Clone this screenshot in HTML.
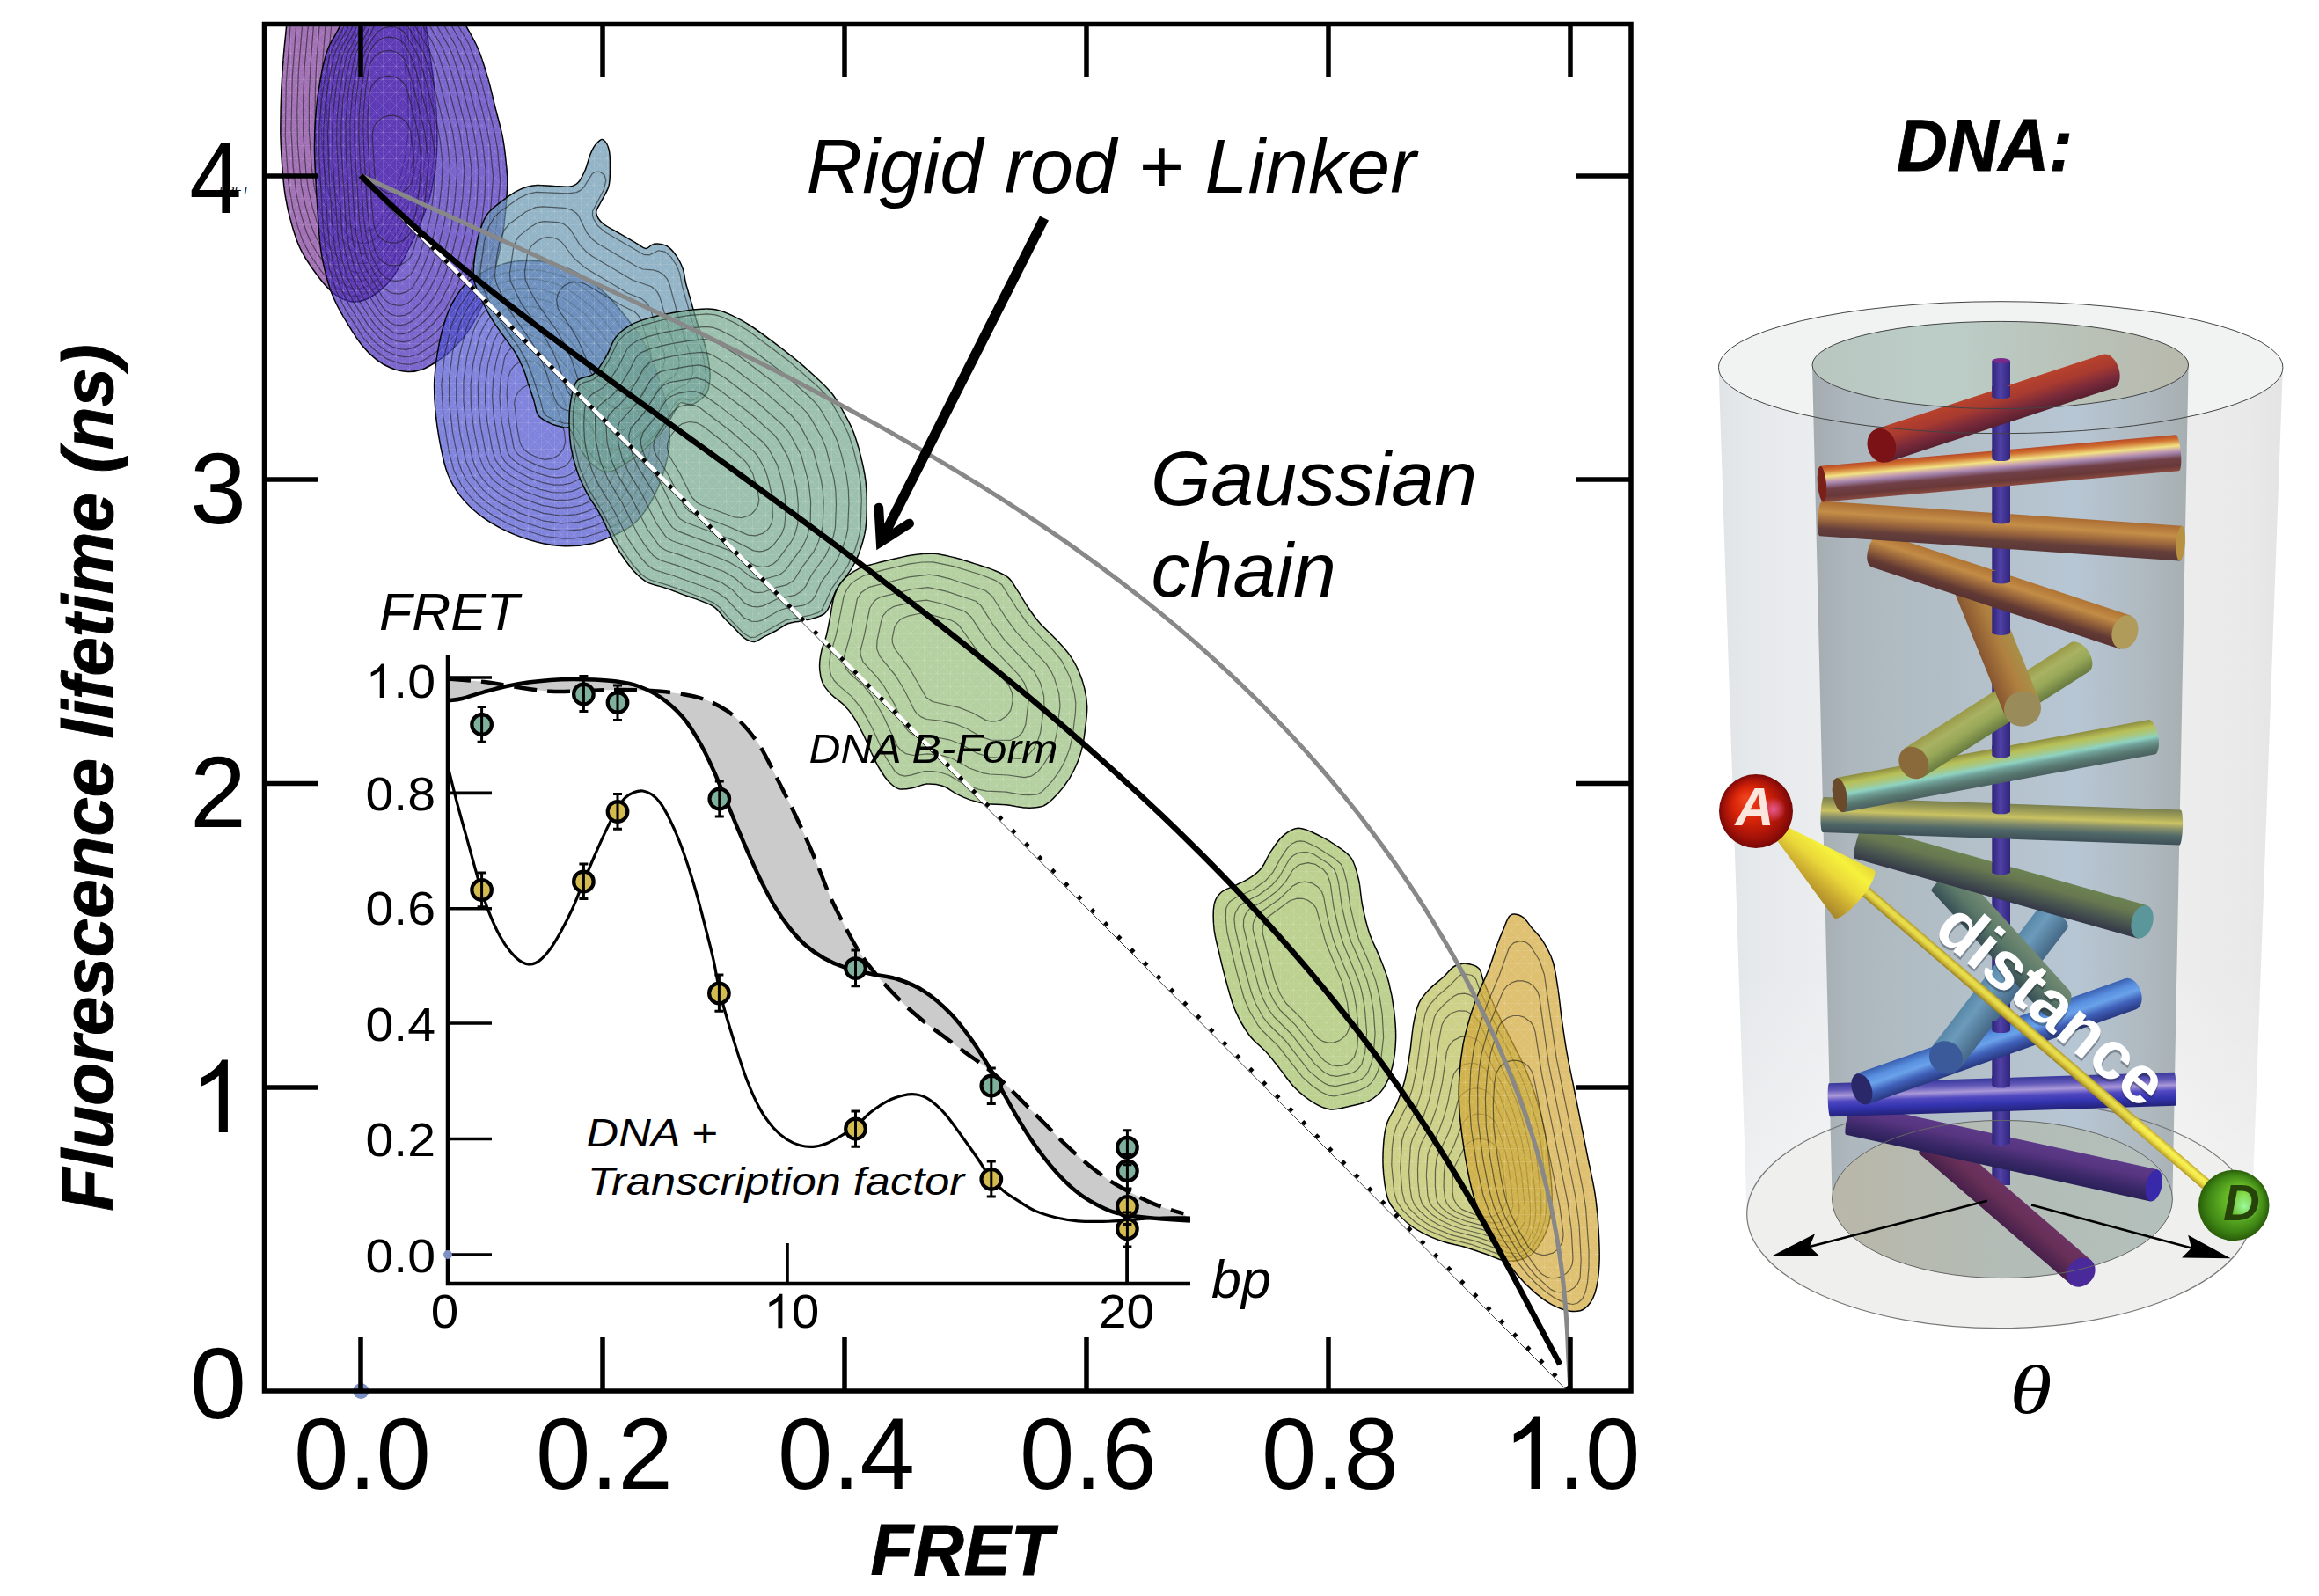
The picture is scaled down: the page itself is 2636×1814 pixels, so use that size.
<!DOCTYPE html>
<html><head><meta charset="utf-8"><title>Figure</title>
<style>
html,body{margin:0;padding:0;background:#fff;}
svg{display:block;font-family:"Liberation Sans",sans-serif;}
text{fill:#000;}
</style></head><body>
<svg width="2636" height="1814" viewBox="0 0 2636 1814">
<defs>
<clipPath id="plotclip"><rect x="300" y="27" width="1554" height="1554"/></clipPath>
<pattern id="mesh" width="15" height="15" patternUnits="userSpaceOnUse"><path d="M0,0.4H15M0.4,0V15M0,0L15,15M15,0L0,15" stroke="#fff" stroke-opacity="0.14" stroke-width="0.8" fill="none"/><path d="M0,7.9H15M7.9,0V15" stroke="#fff" stroke-opacity="0.06" stroke-width="0.7" fill="none"/></pattern>
<linearGradient id="gOuter" gradientUnits="userSpaceOnUse" x1="1953" y1="0" x2="2595" y2="0"><stop offset="0" stop-color="#e0e4e6"/><stop offset="0.06" stop-color="#e6e9eb"/><stop offset="0.2" stop-color="#ebedef"/><stop offset="0.5" stop-color="#f1f2f2"/><stop offset="0.8" stop-color="#ededed"/><stop offset="0.94" stop-color="#e9e9e9"/><stop offset="1" stop-color="#e4e4e4"/></linearGradient>
<linearGradient id="gFade" gradientUnits="userSpaceOnUse" x1="0" y1="1100" x2="0" y2="1420"><stop offset="0" stop-color="#fff" stop-opacity="0"/><stop offset="1" stop-color="#fff" stop-opacity="0.45"/></linearGradient>
<linearGradient id="gInner" gradientUnits="userSpaceOnUse" x1="2060" y1="0" x2="2488" y2="0"><stop offset="0" stop-color="#a4acb0"/><stop offset="0.1" stop-color="#adb7bd"/><stop offset="0.45" stop-color="#b4c1ca"/><stop offset="0.7" stop-color="#b7c6d4"/><stop offset="0.9" stop-color="#aeb8be"/><stop offset="1" stop-color="#a6aeb0"/></linearGradient>
<linearGradient id="gBot" gradientUnits="userSpaceOnUse" x1="2083" y1="0" x2="2470" y2="0"><stop offset="0" stop-color="#b9b7a8"/><stop offset="0.5" stop-color="#b3bcb6"/><stop offset="1" stop-color="#b4c0bc"/></linearGradient>
<linearGradient id="gTop" gradientUnits="userSpaceOnUse" x1="2060" y1="0" x2="2488" y2="0"><stop offset="0" stop-color="#b9c6c0"/><stop offset="0.35" stop-color="#bccdc8"/><stop offset="0.7" stop-color="#b9c2b8"/><stop offset="1" stop-color="#b8b9ac"/></linearGradient>
<linearGradient id="gAxis" gradientUnits="userSpaceOnUse" x1="2264.3" y1="0" x2="2285" y2="0"><stop offset="0" stop-color="#2e2278"/><stop offset="0.45" stop-color="#5041a6"/><stop offset="1" stop-color="#31257c"/></linearGradient>
<linearGradient id="rg15" gradientUnits="userSpaceOnUse" x1="0" y1="-18.0" x2="0" y2="18.0"><stop offset="0" stop-color="#6c3262"/><stop offset="0.4" stop-color="#683058"/><stop offset="1" stop-color="#46204a"/></linearGradient>
<linearGradient id="rg14" gradientUnits="userSpaceOnUse" x1="0" y1="-18.5" x2="0" y2="18.5"><stop offset="0" stop-color="#5c3a88"/><stop offset="0.3" stop-color="#583580"/><stop offset="0.7" stop-color="#3a2868"/><stop offset="1" stop-color="#2a2058"/></linearGradient>
<linearGradient id="rg13" gradientUnits="userSpaceOnUse" x1="0" y1="-19.0" x2="0" y2="19.0"><stop offset="0" stop-color="#38389a"/><stop offset="0.2" stop-color="#6058b8"/><stop offset="0.38" stop-color="#aa98d8"/><stop offset="0.55" stop-color="#5048c0"/><stop offset="0.75" stop-color="#3434b0"/><stop offset="1" stop-color="#22227a"/></linearGradient>
<linearGradient id="rg12" gradientUnits="userSpaceOnUse" x1="0" y1="-18.5" x2="0" y2="18.5"><stop offset="0" stop-color="#3a60b0"/><stop offset="0.25" stop-color="#5a90e0"/><stop offset="0.45" stop-color="#6aa2ea"/><stop offset="0.7" stop-color="#4060b8"/><stop offset="1" stop-color="#283880"/></linearGradient>
<linearGradient id="rg11" gradientUnits="userSpaceOnUse" x1="0" y1="-20.0" x2="0" y2="20.0"><stop offset="0" stop-color="#5888a8"/><stop offset="0.35" stop-color="#6c9aba"/><stop offset="1" stop-color="#456886"/></linearGradient>
<linearGradient id="rg10" gradientUnits="userSpaceOnUse" x1="0" y1="-20.0" x2="0" y2="20.0"><stop offset="0" stop-color="#728a72"/><stop offset="0.5" stop-color="#5a7868"/><stop offset="1" stop-color="#384e56"/></linearGradient>
<linearGradient id="rg9" gradientUnits="userSpaceOnUse" x1="0" y1="-19.5" x2="0" y2="19.5"><stop offset="0" stop-color="#6c8252"/><stop offset="0.3" stop-color="#687850"/><stop offset="0.65" stop-color="#4a5850"/><stop offset="1" stop-color="#343848"/></linearGradient>
<linearGradient id="rg8" gradientUnits="userSpaceOnUse" x1="0" y1="-20.0" x2="0" y2="20.0"><stop offset="0" stop-color="#7a8050"/><stop offset="0.2" stop-color="#a0a058"/><stop offset="0.38" stop-color="#cac262"/><stop offset="0.55" stop-color="#88906a"/><stop offset="0.75" stop-color="#506868"/><stop offset="1" stop-color="#3e5058"/></linearGradient>
<linearGradient id="rg7" gradientUnits="userSpaceOnUse" x1="0" y1="-20.0" x2="0" y2="20.0"><stop offset="0" stop-color="#8c8c3e"/><stop offset="0.2" stop-color="#b8c058"/><stop offset="0.35" stop-color="#a8c880"/><stop offset="0.5" stop-color="#8ed2c2"/><stop offset="0.62" stop-color="#70a098"/><stop offset="0.8" stop-color="#587870"/><stop offset="1" stop-color="#4a6060"/></linearGradient>
<linearGradient id="rg6" gradientUnits="userSpaceOnUse" x1="0" y1="-19.5" x2="0" y2="19.5"><stop offset="0" stop-color="#9a9a48"/><stop offset="0.3" stop-color="#a8b262"/><stop offset="0.6" stop-color="#98a858"/><stop offset="1" stop-color="#687a40"/></linearGradient>
<linearGradient id="rg5" gradientUnits="userSpaceOnUse" x1="0" y1="-21.5" x2="0" y2="21.5"><stop offset="0" stop-color="#a89048"/><stop offset="0.4" stop-color="#b08040"/><stop offset="1" stop-color="#875630"/></linearGradient>
<linearGradient id="rg4" gradientUnits="userSpaceOnUse" x1="0" y1="-20.0" x2="0" y2="20.0"><stop offset="0" stop-color="#b07434"/><stop offset="0.28" stop-color="#c28c46"/><stop offset="0.55" stop-color="#93603a"/><stop offset="0.8" stop-color="#623a34"/><stop offset="1" stop-color="#583232"/></linearGradient>
<linearGradient id="rg3" gradientUnits="userSpaceOnUse" x1="0" y1="-20.0" x2="0" y2="20.0"><stop offset="0" stop-color="#aa6c34"/><stop offset="0.3" stop-color="#c48e48"/><stop offset="0.52" stop-color="#a06a3e"/><stop offset="0.78" stop-color="#643e3a"/><stop offset="1" stop-color="#5a3838"/></linearGradient>
<linearGradient id="rg2" gradientUnits="userSpaceOnUse" x1="0" y1="-20.5" x2="0" y2="20.5"><stop offset="0" stop-color="#b84a28"/><stop offset="0.12" stop-color="#d07030"/><stop offset="0.3" stop-color="#f2e282"/><stop offset="0.42" stop-color="#c8a0b0"/><stop offset="0.5" stop-color="#a080a8"/><stop offset="0.65" stop-color="#704048"/><stop offset="0.85" stop-color="#683838"/><stop offset="1" stop-color="#8a4a40"/></linearGradient>
<linearGradient id="rg1" gradientUnits="userSpaceOnUse" x1="0" y1="-20.0" x2="0" y2="20.0"><stop offset="0" stop-color="#b8422c"/><stop offset="0.35" stop-color="#a83a30"/><stop offset="0.7" stop-color="#7a2a3a"/><stop offset="1" stop-color="#582030"/></linearGradient>
<linearGradient id="gCone" gradientUnits="userSpaceOnUse" x1="0" y1="-35.5" x2="0" y2="35.5"><stop offset="0" stop-color="#e6d63a"/><stop offset="0.22" stop-color="#f6f23c"/><stop offset="0.48" stop-color="#ead83a"/><stop offset="0.75" stop-color="#c8a830"/><stop offset="1" stop-color="#a4842a"/></linearGradient>
<linearGradient id="gShaft" gradientUnits="userSpaceOnUse" x1="0" y1="-6.4" x2="0" y2="6.4"><stop offset="0" stop-color="#b09828"/><stop offset="0.25" stop-color="#e6dc4c"/><stop offset="0.5" stop-color="#e8dc48"/><stop offset="0.8" stop-color="#c4ac34"/><stop offset="1" stop-color="#94801e"/></linearGradient>
<linearGradient id="gShaft2" gradientUnits="userSpaceOnUse" x1="0" y1="-6.4" x2="0" y2="6.4"><stop offset="0" stop-color="#c8b030"/><stop offset="0.3" stop-color="#f8f254"/><stop offset="0.6" stop-color="#f2e648"/><stop offset="1" stop-color="#b89c28"/></linearGradient>
<radialGradient id="gA" gradientUnits="userSpaceOnUse" cx="1996" cy="922" r="42" fx="1984" fy="906"><stop offset="0" stop-color="#f04420"/><stop offset="0.45" stop-color="#d82408"/><stop offset="0.8" stop-color="#a41208"/><stop offset="1" stop-color="#780808"/></radialGradient>
<radialGradient id="gA2" gradientUnits="userSpaceOnUse" cx="2016" cy="920" r="14"><stop offset="0" stop-color="#e860a0" stop-opacity="0.9"/><stop offset="1" stop-color="#e860a0" stop-opacity="0"/></radialGradient>
<radialGradient id="gD" gradientUnits="userSpaceOnUse" cx="2539" cy="1370" r="40.3" fx="2552" fy="1358"><stop offset="0" stop-color="#88dc48"/><stop offset="0.45" stop-color="#62b226"/><stop offset="0.8" stop-color="#3e8614"/><stop offset="1" stop-color="#2a5c0a"/></radialGradient>
<radialGradient id="gD2" gradientUnits="userSpaceOnUse" cx="2551" cy="1371" r="17"><stop offset="0" stop-color="#a0ffa8" stop-opacity="0.95"/><stop offset="1" stop-color="#90f080" stop-opacity="0"/></radialGradient>
</defs>
<rect width="2636" height="1814" fill="#fff"/>
<g clip-path="url(#plotclip)">
<path d="M328.6,-35.1C303.1,-28.7 327.4,-7.3 326.9,3.5C326.4,14.3 326.3,20.0 325.6,29.6C324.8,39.3 323.5,49.2 322.5,61.4C321.6,73.5 320.4,87.5 319.8,102.7C319.2,117.9 318.8,137.6 318.9,152.3C319.1,167.0 320.0,179.0 320.9,190.9C321.8,202.9 322.7,213.4 324.5,224.0C326.2,234.6 328.6,244.7 331.4,254.3C334.1,264.0 336.9,273.2 341.0,281.9C345.1,290.6 350.6,298.9 356.2,306.7C361.7,314.5 369.0,323.5 374.1,328.8C379.1,334.0 381.7,336.0 386.5,338.4C391.3,340.8 397.1,343.3 403.0,343.1C409.0,342.9 415.4,341.2 422.3,337.0C429.2,332.8 437.9,325.5 444.4,317.7C450.8,309.9 455.4,300.7 460.9,290.2C466.4,279.6 472.9,265.3 477.5,254.3C482.1,243.3 485.5,235.5 488.5,224.0C491.5,212.5 494.0,197.8 495.4,185.4C496.8,173.0 497.0,163.3 496.8,149.6C496.5,135.8 495.4,117.4 494.0,102.7C492.6,88.0 490.1,73.5 488.5,61.4C486.9,49.2 485.5,39.3 484.3,29.6C483.2,20.0 482.4,14.3 481.6,3.5C480.8,-7.3 505.2,-28.7 479.7,-35.1C454.2,-41.6 354.0,-41.6 328.6,-35.1Z" fill="rgba(122,52,149,0.70)" stroke="#000" stroke-width="1.5"/>
<path d="M328.6,-35.1C303.1,-28.7 327.4,-7.3 326.9,3.5C326.4,14.3 326.3,20.0 325.6,29.6C324.8,39.3 323.5,49.2 322.5,61.4C321.6,73.5 320.4,87.5 319.8,102.7C319.2,117.9 318.8,137.6 318.9,152.3C319.1,167.0 320.0,179.0 320.9,190.9C321.8,202.9 322.7,213.4 324.5,224.0C326.2,234.6 328.6,244.7 331.4,254.3C334.1,264.0 336.9,273.2 341.0,281.9C345.1,290.6 350.6,298.9 356.2,306.7C361.7,314.5 369.0,323.5 374.1,328.8C379.1,334.0 381.7,336.0 386.5,338.4C391.3,340.8 397.1,343.3 403.0,343.1C409.0,342.9 415.4,341.2 422.3,337.0C429.2,332.8 437.9,325.5 444.4,317.7C450.8,309.9 455.4,300.7 460.9,290.2C466.4,279.6 472.9,265.3 477.5,254.3C482.1,243.3 485.5,235.5 488.5,224.0C491.5,212.5 494.0,197.8 495.4,185.4C496.8,173.0 497.0,163.3 496.8,149.6C496.5,135.8 495.4,117.4 494.0,102.7C492.6,88.0 490.1,73.5 488.5,61.4C486.9,49.2 485.5,39.3 484.3,29.6C483.2,20.0 482.4,14.3 481.6,3.5C480.8,-7.3 505.2,-28.7 479.7,-35.1C454.2,-41.6 354.0,-41.6 328.6,-35.1Z" fill="url(#mesh)"/>
<path d="M327.4,-32.3L323.7,-29.0L322.8,-24.1L331.2,-4.7L332.2,1.4L325.3,94.7L324.3,155.1L327.6,205.0L332.7,236.1L338.5,257.9L344.5,274.6L352.7,290.0L365.0,307.8L378.2,323.4L386.4,330.6L398.9,336.0L403.9,336.6L410.1,335.8L419.3,332.3L429.5,325.4L440.3,315.3L448.8,303.9L460.7,281.7L473.2,254.5L482.4,231.8L487.9,211.6L491.4,192.0L493.5,173.8L493.7,136.1L490.7,95.2L482.1,31.3L478.9,0.8L480.0,-5.3L487.3,-21.3L487.9,-27.0L485.3,-31.2L478.9,-33.9L467.3,-35.8L428.6,-38.2L382.3,-38.2L361.0,-37.3L342.8,-35.7L331.8,-33.9ZM344.4,-32.7L340.9,-31.6L337.0,-28.6L335.0,-25.6L333.9,-20.9L334.6,-16.1L337.7,-8.8L338.9,-0.8L332.3,87.2L330.9,147.3L333.2,189.6L337.0,221.1L342.0,243.1L348.3,263.8L353.7,276.0L362.4,290.4L375.2,307.7L388.4,321.9L400.1,327.8L409.0,328.2L417.4,325.3L427.4,318.6L437.5,309.0L445.5,298.2L459.2,272.4L474.4,238.0L480.7,220.7L484.8,203.3L489.2,170.9L489.6,139.6L486.5,93.4L474.6,-0.4L475.7,-8.7L479.1,-17.3L479.4,-22.1L477.1,-27.7L471.4,-32.1L451.0,-34.2L429.4,-35.2L383.8,-35.2ZM360.5,-31.0L354.0,-29.1L349.8,-26.1L345.9,-20.5L344.6,-15.5L345.6,-5.1L345.1,10.1L339.4,79.7L337.7,126.9L338.4,164.4L342.4,210.2L346.7,232.1L352.5,252.8L357.2,265.4L362.9,276.6L376.3,296.2L391.3,313.5L400.3,319.0L409.0,320.2L417.0,317.4L427.7,309.6L436.8,300.3L443.6,290.2L457.5,263.3L470.6,233.3L476.6,216.7L480.7,199.5L485.0,167.7L485.2,131.5L482.3,91.2L471.0,4.8L470.4,-4.7L471.3,-15.8L469.9,-20.7L466.1,-26.2L461.9,-29.1L457.1,-30.7L408.1,-32.5ZM373.4,-28.6L365.3,-26.7L358.4,-21.8L353.9,-14.7L352.5,-8.5L351.0,21.1L346.1,77.6L344.7,111.7L344.7,152.3L347.8,196.0L350.3,214.4L355.1,235.2L361.2,255.1L367.1,268.1L379.7,287.4L392.6,303.2L399.6,308.2L405.8,310.0L410.1,310.2L416.5,308.8L422.1,305.6L431.3,297.2L437.1,289.8L453.9,258.2L471.7,215.4L477.4,191.3L481.0,160.9L480.9,129.2L478.1,89.6L469.5,25.9L466.0,-9.2L464.2,-15.6L460.7,-21.2L453.6,-26.5L445.1,-28.6L409.4,-29.5ZM380.1,-25.8L373.7,-24.6L366.3,-20.2L361.1,-13.2L359.2,-7.0L352.9,75.3L351.4,109.2L351.4,149.6L354.5,192.7L357.0,211.0L361.6,231.2L367.4,250.2L373.2,262.9L383.7,279.3L395.0,293.6L402.0,298.3L406.1,299.5L412.5,299.9L418.7,298.4L424.2,295.2L430.2,289.1L435.3,281.9L452.2,249.0L464.2,220.9L468.5,208.7L473.9,183.6L476.8,158.1L476.7,127.2L474.4,92.5L461.8,-7.6L459.8,-13.7L457.5,-17.3L451.1,-22.9L443.1,-25.6L410.6,-26.5ZM386.6,-23.1L380.2,-21.8L372.8,-17.4L367.6,-10.4L365.8,-4.2L359.9,68.2L358.4,100.7L358.0,142.1L360.5,182.0L362.5,200.6L366.5,220.7L372.9,243.1L377.9,255.4L387.6,270.9L397.5,283.5L405.0,287.8L413.5,288.8L417.8,288.1L423.7,285.5L428.6,281.2L431.9,276.5L448.4,244.2L464.5,204.6L469.7,180.2L472.5,155.7L472.6,130.0L470.6,95.9L457.9,-5.1L454.8,-12.9L449.0,-19.0L445.4,-21.1L439.3,-22.8ZM393.8,-20.2L385.1,-18.3L379.6,-14.8L375.3,-9.7L372.3,-1.4L365.5,86.8L364.7,129.1L365.9,161.9L368.3,190.1L370.9,207.0L375.7,226.8L382.1,246.1L388.3,257.7L397.3,270.3L400.7,272.9L406.5,275.6L415.0,276.3L421.1,274.7L424.9,272.7L428.2,270.0L432.0,264.8L446.7,235.0L460.5,200.6L464.9,180.9L468.1,156.1L468.5,132.9L467.2,105.3L464.8,79.0L454.4,-0.3L451.9,-8.5L446.6,-15.1L441.1,-18.4L437.0,-19.7ZM400.2,-17.3L391.7,-15.4L386.1,-11.9L380.8,-5.0L378.8,1.3L372.5,79.3L371.4,120.6L372.1,150.3L374.3,180.0L376.9,200.2L381.3,219.4L387.6,239.3L394.0,251.9L399.0,258.0L406.7,262.2L415.3,263.1L423.7,260.6L427.3,258.2L431.7,253.3L442.9,230.3L455.6,199.3L459.9,181.7L463.5,157.1L464.3,139.2L463.7,114.6L460.6,77.2L450.7,2.2L449.0,-3.9L445.7,-9.3L442.7,-12.3L435.3,-16.3L429.1,-17.3Z" fill="none" stroke="#1a1a1a" stroke-opacity="0.60" stroke-width="1.2" stroke-linejoin="round"/>
<path d="M405.8,-35.1C388.1,-28.7 399.3,-7.3 396.1,3.5C392.9,14.3 390.4,20.9 386.5,29.6C382.6,38.4 376.4,46.0 372.7,55.8C369.0,65.7 366.7,76.5 364.4,88.9C362.1,101.3 360.1,116.5 358.9,130.3C357.8,144.1 357.3,155.5 357.5,171.6C357.8,187.7 359.1,208.4 360.3,226.8C361.4,245.1 362.4,266.3 364.4,281.9C366.5,297.5 369.9,310.4 372.7,320.5C375.5,330.6 377.3,334.7 381.0,342.5C384.6,350.3 389.7,359.1 394.8,367.3C399.8,375.6 405.8,385.3 411.3,392.2C416.8,399.0 422.3,404.3 427.8,408.7C433.3,413.1 438.4,416.0 444.4,418.3C450.3,420.6 457.7,422.3 463.7,422.5C469.6,422.7 474.9,421.6 480.2,419.7C485.5,417.9 489.9,415.1 495.4,411.5C500.9,407.8 507.1,403.6 513.3,397.7C519.5,391.7 526.6,384.3 532.6,375.6C538.6,366.9 544.3,356.3 549.1,345.3C554.0,334.3 557.9,322.3 561.5,309.5C565.2,296.6 568.7,284.2 571.2,268.1C573.7,252.0 576.0,226.8 576.7,213.0C577.4,199.2 576.2,195.1 575.3,185.4C574.4,175.8 573.3,165.6 571.2,155.1C569.1,144.5 565.7,133.0 562.9,122.0C560.2,111.0 557.9,99.9 554.6,88.9C551.4,77.9 547.8,65.7 543.6,55.8C539.5,46.0 534.7,38.4 529.8,29.6C525.0,20.9 519.3,14.3 514.7,3.5C510.1,-7.3 520.4,-28.7 502.3,-35.1C484.1,-41.6 423.5,-41.6 405.8,-35.1Z" fill="rgba(65,36,182,0.70)" stroke="#000" stroke-width="1.5"/>
<path d="M405.8,-35.1C388.1,-28.7 399.3,-7.3 396.1,3.5C392.9,14.3 390.4,20.9 386.5,29.6C382.6,38.4 376.4,46.0 372.7,55.8C369.0,65.7 366.7,76.5 364.4,88.9C362.1,101.3 360.1,116.5 358.9,130.3C357.8,144.1 357.3,155.5 357.5,171.6C357.8,187.7 359.1,208.4 360.3,226.8C361.4,245.1 362.4,266.3 364.4,281.9C366.5,297.5 369.9,310.4 372.7,320.5C375.5,330.6 377.3,334.7 381.0,342.5C384.6,350.3 389.7,359.1 394.8,367.3C399.8,375.6 405.8,385.3 411.3,392.2C416.8,399.0 422.3,404.3 427.8,408.7C433.3,413.1 438.4,416.0 444.4,418.3C450.3,420.6 457.7,422.3 463.7,422.5C469.6,422.7 474.9,421.6 480.2,419.7C485.5,417.9 489.9,415.1 495.4,411.5C500.9,407.8 507.1,403.6 513.3,397.7C519.5,391.7 526.6,384.3 532.6,375.6C538.6,366.9 544.3,356.3 549.1,345.3C554.0,334.3 557.9,322.3 561.5,309.5C565.2,296.6 568.7,284.2 571.2,268.1C573.7,252.0 576.0,226.8 576.7,213.0C577.4,199.2 576.2,195.1 575.3,185.4C574.4,175.8 573.3,165.6 571.2,155.1C569.1,144.5 565.7,133.0 562.9,122.0C560.2,111.0 557.9,99.9 554.6,88.9C551.4,77.9 547.8,65.7 543.6,55.8C539.5,46.0 534.7,38.4 529.8,29.6C525.0,20.9 519.3,14.3 514.7,3.5C510.1,-7.3 520.4,-28.7 502.3,-35.1C484.1,-41.6 423.5,-41.6 405.8,-35.1Z" fill="url(#mesh)"/>
<path d="M408.2,-31.1L403.3,-28.2L401.0,-23.9L401.7,-1.7L397.3,14.7L389.3,33.9L378.8,52.9L374.9,63.7L369.4,88.3L365.5,113.4L362.9,143.8L362.7,175.8L367.0,253.1L369.4,279.4L374.3,304.7L381.9,330.3L393.3,352.9L412.8,383.6L424.7,396.8L439.3,407.7L454.0,413.0L462.1,414.1L468.0,413.8L477.9,411.2L486.2,406.7L500.8,396.6L511.9,386.5L521.1,376.1L527.8,366.8L536.0,352.5L543.3,336.7L549.4,319.6L556.3,296.3L561.1,276.5L564.0,258.9L568.7,206.1L565.6,169.6L561.4,146.7L542.9,76.3L532.8,49.8L511.1,12.5L506.9,3.8L505.4,-2.8L505.0,-22.1L503.0,-27.1L498.6,-30.5L491.4,-32.4L466.3,-34.9L437.8,-34.8L424.5,-33.9ZM407.5,-18.8L406.1,1.4L402.0,15.2L393.7,34.9L383.3,53.6L379.6,63.8L374.3,87.8L369.9,117.5L367.8,146.9L367.7,173.8L372.0,250.8L374.4,276.8L379.1,301.4L386.4,325.9L397.4,347.7L414.8,375.5L425.9,388.6L439.2,399.2L451.9,404.3L459.8,405.6L465.7,405.5L474.4,403.0L483.1,398.1L496.8,388.3L507.9,377.6L516.4,367.6L522.7,358.1L530.4,343.9L537.2,328.4L543.0,311.4L550.8,283.4L556.8,249.6L560.6,201.0L557.0,165.2L553.5,146.6L541.0,97.0L532.5,68.6L524.0,48.2L499.7,5.7L497.4,-2.7L496.9,-15.3L493.8,-22.4L487.7,-27.2L477.1,-29.2L450.4,-30.3L423.4,-29.1L415.8,-27.5L410.8,-24.0ZM432.0,-25.0L425.6,-23.6L421.7,-21.6L418.2,-18.8L414.3,-13.6L412.1,-7.4L410.2,4.3L405.5,18.6L398.1,35.9L386.7,57.0L380.8,78.7L374.9,116.4L372.7,150.0L373.3,184.9L377.1,248.8L380.1,278.9L385.0,302.2L390.9,321.5L401.5,342.6L418.7,369.9L431.9,384.8L438.8,390.3L445.7,394.1L453.9,396.6L461.8,397.3L469.3,395.5L476.0,392.1L489.6,382.6L499.1,373.9L513.3,356.4L526.2,332.2L536.5,303.1L545.9,265.3L550.9,225.3L552.2,194.1L549.3,167.7L546.3,150.2L527.2,76.7L517.8,52.0L492.2,6.8L486.6,-13.4L481.0,-20.1L477.3,-22.5L471.0,-24.6L449.6,-25.5ZM464.6,-19.9L433.1,-19.9L426.9,-17.5L423.3,-14.9L419.1,-9.8L407.4,26.0L401.7,38.6L392.3,55.3L389.1,64.1L383.3,90.9L379.4,120.6L377.7,148.7L378.3,183.0L384.3,271.0L388.7,294.4L395.0,316.0L407.5,340.6L418.7,358.8L427.4,370.7L435.1,378.5L443.4,384.6L450.6,387.6L458.3,388.7L465.0,387.6L469.9,385.3L483.5,376.0L492.8,367.5L506.2,351.1L518.5,327.8L527.3,303.9L537.0,266.9L542.1,230.1L544.1,194.4L540.8,163.6L537.4,145.8L523.0,89.0L515.6,65.7L510.3,53.1L486.9,12.7L483.5,5.0L480.3,-6.7L475.7,-13.8L470.6,-17.7ZM423.5,-5.6L410.5,30.3L394.7,61.4L389.8,81.8L385.5,109.3L383.0,137.7L382.7,162.3L388.6,263.1L391.7,282.9L398.1,307.8L404.0,321.7L411.6,335.5L426.0,358.3L436.1,370.1L447.2,378.0L453.4,379.6L457.7,379.6L463.9,378.1L473.2,372.4L481.4,366.0L490.4,356.9L501.1,342.4L512.4,319.9L522.0,291.3L529.9,259.0L534.6,220.3L536.0,198.9L535.7,189.4L530.3,149.5L517.1,96.4L510.2,73.1L503.1,54.8L479.5,13.9L471.9,-5.1L465.9,-11.6L460.0,-14.6L453.5,-15.7L439.4,-15.6L433.2,-13.9L427.7,-10.5ZM451.2,-10.5L441.6,-10.7L435.4,-8.6L431.8,-6.2L427.3,-1.4L413.4,34.7L399.4,61.7L394.0,85.2L389.9,113.2L387.9,140.6L387.8,165.9L393.7,261.1L396.6,279.8L403.0,304.6L414.0,327.3L432.6,356.5L442.9,366.5L448.7,369.0L454.9,369.7L461.1,368.7L466.7,365.9L474.8,359.9L483.9,350.7L493.9,337.2L504.7,315.6L514.0,287.9L521.7,256.5L525.8,225.0L527.9,193.5L525.0,165.2L522.2,148.6L508.1,92.6L498.7,63.0L491.4,48.0L473.7,18.3L464.9,-1.1L462.2,-4.4L457.1,-8.3ZM487.8,56.5L460.9,11.4L455.9,7.5L450.0,5.3L445.8,4.7L439.5,5.5L433.7,8.0L428.8,12.0L426.3,15.5L417.0,37.5L405.7,58.1L402.8,66.5L396.1,102.6L392.9,139.3L393.4,176.5L398.1,252.5L400.7,272.5L406.2,295.6L409.2,304.7L415.1,316.9L435.0,349.0L438.1,352.8L443.3,356.6L449.3,358.8L453.6,359.2L460.0,358.3L465.8,355.6L477.4,344.5L488.0,329.8L497.2,310.9L504.9,288.5L512.9,257.6L516.9,229.9L519.7,195.0L517.6,170.5L514.8,151.3L495.8,77.6ZM481.3,59.6L460.7,25.2L455.6,21.1L451.6,19.4L445.1,18.3L438.7,19.1L434.6,20.7L429.3,24.5L425.3,29.7L418.6,44.1L409.8,59.6L407.5,67.0L401.0,101.7L397.9,137.8L398.1,168.2L402.6,244.3L404.9,265.3L410.1,288.6L413.1,298.8L417.2,307.9L434.7,337.5L437.5,340.8L442.7,344.7L446.8,346.4L453.3,347.3L457.6,346.8L463.7,344.5L472.5,336.6L482.2,322.0L490.8,303.4L499.5,276.0L505.6,250.6L508.8,227.2L511.5,193.1L509.5,169.4L506.9,151.3L491.3,89.1ZM424.5,42.2L415.1,58.9L412.3,66.9L407.3,92.0L403.6,123.5L402.8,144.6L403.1,165.9L408.6,253.1L411.3,270.4L416.5,291.0L424.9,309.5L433.5,323.8L437.7,328.8L445.3,333.1L454.0,334.1L462.4,331.7L467.7,327.8L470.5,324.4L479.3,308.2L486.6,289.3L493.9,263.8L498.3,243.1L502.0,210.9L503.1,184.9L500.2,159.0L496.7,141.5L481.2,81.7L475.5,64.8L470.7,54.7L460.1,37.3L455.1,33.3L449.2,30.9L442.9,30.3L434.7,32.4L429.3,35.9ZM467.2,63.9L459.2,49.6L454.2,45.4L448.1,42.8L443.8,42.1L439.4,42.3L433.1,44.2L429.4,46.5L424.8,51.2L418.8,61.4L415.1,75.2L410.4,104.4L408.1,130.6L407.8,152.9L409.2,183.8L413.1,245.4L416.2,267.3L422.3,290.5L431.4,308.4L433.9,311.9L438.8,316.0L444.7,318.6L448.9,319.3L455.3,318.8L459.4,317.4L466.3,312.5L470.2,306.8L476.4,292.4L484.8,264.7L489.5,244.7L492.5,222.2L495.0,192.2L495.1,185.2L492.9,164.4L489.5,144.3L473.2,81.7ZM469.3,95.6L460.7,68.6L456.7,63.6L451.5,59.9L447.6,58.3L443.4,57.5L437.0,57.9L431.0,60.1L425.9,64.0L422.1,69.1L419.9,75.2L415.9,99.2L413.4,124.9L412.8,146.0L413.8,174.7L417.6,237.4L420.4,260.6L426.0,283.7L429.1,291.2L431.7,294.7L436.6,298.9L442.6,301.5L446.9,302.1L455.5,300.9L461.3,297.8L465.9,293.2L468.9,287.4L476.9,261.2L481.4,241.7L486.6,194.4L486.9,183.3L482.6,149.3ZM463.2,103.1L459.6,95.2L454.9,90.5L447.1,86.8L440.5,86.2L432.1,88.4L426.7,92.2L421.7,99.3L419.8,107.1L418.0,131.3L418.0,154.3L422.2,228.6L424.6,253.5L426.7,262.6L430.1,268.2L436.8,273.7L445.1,276.2L451.6,275.8L457.7,273.5L462.9,269.5L466.7,264.2L472.6,242.6L476.3,217.2L478.8,184.7L476.7,162.4L474.1,146.4ZM466.7,149.1L464.5,142.9L460.7,137.6L455.4,133.7L447.0,131.2L440.5,131.6L434.4,133.9L427.7,139.6L424.5,145.3L423.1,153.9L426.3,204.2L427.7,208.2L431.3,213.5L434.4,216.4L440.0,219.4L448.4,220.7L456.6,218.8L463.5,213.9L468.1,206.7L469.5,200.5L470.7,182.6Z" fill="none" stroke="#1a1a1a" stroke-opacity="0.60" stroke-width="1.2" stroke-linejoin="round"/>
<path d="M527.3,324.8C522.1,331.3 514.8,342.0 510.1,353.0C505.4,364.0 501.9,377.5 499.2,390.6C496.4,403.6 494.5,418.3 493.8,431.3C493.2,444.4 493.9,456.4 495.1,468.9C496.2,481.4 498.5,495.0 500.7,506.5C503.0,518.0 504.9,528.4 508.6,537.8C512.2,547.2 516.6,555.0 522.6,562.9C528.7,570.7 535.7,578.0 544.6,584.8C553.4,591.6 564.9,598.4 575.9,603.6C586.9,608.8 599.4,613.2 610.4,616.1C621.3,619.0 631.2,620.6 641.7,620.8C652.1,621.1 663.6,619.8 673.0,617.7C682.4,615.6 690.2,611.9 698.1,608.3C705.9,604.6 713.2,601.8 720.0,595.8C726.8,589.8 733.3,581.4 738.8,572.3C744.3,563.1 749.2,551.9 752.9,540.9C756.5,530.0 759.7,518.5 760.7,506.5C761.7,494.5 761.2,481.9 759.1,468.9C757.1,455.8 752.6,441.2 748.2,428.2C743.7,415.1 738.8,402.1 732.5,390.6C726.2,379.1 718.4,369.2 710.6,359.3C702.8,349.3 694.9,339.4 685.5,331.1C676.1,322.7 664.6,314.6 654.2,309.1C643.8,303.7 633.3,300.3 622.9,298.2C612.4,296.1 601.5,295.8 591.6,296.6C581.6,297.4 571.7,300.0 563.4,302.9C555.0,305.8 547.4,310.2 541.4,313.8C535.4,317.5 532.6,318.3 527.3,324.8Z" fill="rgba(74,79,205,0.70)" stroke="#000" stroke-width="1.5"/>
<path d="M527.3,324.8C522.1,331.3 514.8,342.0 510.1,353.0C505.4,364.0 501.9,377.5 499.2,390.6C496.4,403.6 494.5,418.3 493.8,431.3C493.2,444.4 493.9,456.4 495.1,468.9C496.2,481.4 498.5,495.0 500.7,506.5C503.0,518.0 504.9,528.4 508.6,537.8C512.2,547.2 516.6,555.0 522.6,562.9C528.7,570.7 535.7,578.0 544.6,584.8C553.4,591.6 564.9,598.4 575.9,603.6C586.9,608.8 599.4,613.2 610.4,616.1C621.3,619.0 631.2,620.6 641.7,620.8C652.1,621.1 663.6,619.8 673.0,617.7C682.4,615.6 690.2,611.9 698.1,608.3C705.9,604.6 713.2,601.8 720.0,595.8C726.8,589.8 733.3,581.4 738.8,572.3C744.3,563.1 749.2,551.9 752.9,540.9C756.5,530.0 759.7,518.5 760.7,506.5C761.7,494.5 761.2,481.9 759.1,468.9C757.1,455.8 752.6,441.2 748.2,428.2C743.7,415.1 738.8,402.1 732.5,390.6C726.2,379.1 718.4,369.2 710.6,359.3C702.8,349.3 694.9,339.4 685.5,331.1C676.1,322.7 664.6,314.6 654.2,309.1C643.8,303.7 633.3,300.3 622.9,298.2C612.4,296.1 601.5,295.8 591.6,296.6C581.6,297.4 571.7,300.0 563.4,302.9C555.0,305.8 547.4,310.2 541.4,313.8C535.4,317.5 532.6,318.3 527.3,324.8Z" fill="url(#mesh)"/>
<path d="M533.6,331.4L521.1,350.4L513.1,370.1L505.4,403.1L501.9,437.1L503.8,473.5L510.4,513.8L516.1,535.0L525.2,552.7L533.2,563.1L540.7,571.0L552.1,580.3L562.9,587.4L578.6,595.8L590.8,601.0L618.9,609.5L640.9,612.2L651.9,611.8L666.2,610.0L684.1,604.5L708.6,592.4L716.6,585.4L723.4,577.1L731.2,565.1L736.7,554.1L742.6,538.9L747.2,522.9L749.5,510.8L750.4,498.2L750.1,485.1L748.5,471.5L742.7,446.8L729.1,408.8L723.0,396.2L715.9,384.6L690.3,351.7L674.7,336.2L663.4,327.5L652.0,320.3L641.6,315.1L630.4,311.0L616.5,307.8L605.6,306.7L591.3,306.9L580.9,308.4L568.1,311.8L557.1,316.1L538.6,326.6ZM545.1,333.9L540.3,337.7L532.3,348.8L526.4,359.3L522.4,369.2L514.4,400.5L510.6,429.6L510.5,455.7L514.5,491.5L521.7,526.5L525.1,535.8L530.4,546.0L543.8,562.8L553.3,571.1L562.9,577.8L574.3,584.4L588.9,591.4L616.0,600.2L626.9,602.4L639.3,603.5L660.4,601.9L676.3,597.7L700.4,586.4L706.4,581.8L712.7,574.7L719.8,564.5L725.2,554.4L731.0,540.5L735.8,525.4L738.4,513.5L739.5,502.9L738.5,478.2L733.8,455.5L722.6,421.9L711.1,397.4L690.3,369.1L673.0,349.3L653.0,333.7L642.5,327.5L632.7,323.1L623.0,319.9L610.7,317.5L600.0,316.9L587.2,317.6L576.0,319.8L565.2,323.2ZM550.2,342.1L545.1,346.3L539.1,354.7L533.7,364.3L530.1,373.1L522.5,403.1L518.8,431.2L518.7,456.0L522.6,490.6L529.6,524.6L536.9,541.2L549.3,556.9L557.8,564.4L567.2,570.9L591.3,583.4L617.0,591.8L638.2,594.8L657.6,593.4L671.6,589.7L694.4,579.0L700.1,574.2L705.8,567.4L716.6,548.4L725.5,523.3L728.8,502.6L727.9,480.3L723.4,458.9L712.5,426.1L701.6,403.1L681.6,375.8L665.1,357.0L647.1,342.8L628.8,333.1L619.2,330.0L608.4,327.8L588.0,327.7L577.1,329.8L567.4,332.9ZM555.5,350.1L551.7,352.9L547.2,358.5L541.4,368.4L537.9,377.0L530.6,405.7L527.0,432.7L526.9,455.9L530.1,485.8L536.9,520.8L539.8,529.3L543.7,537.1L549.2,544.8L556.1,552.4L571.0,563.7L593.7,575.5L617.9,583.4L637.2,586.1L654.9,584.8L666.8,581.7L688.0,571.8L692.6,567.9L698.4,560.4L708.1,542.2L715.7,519.0L718.2,500.3L717.1,481.7L712.9,461.8L702.4,430.4L692.2,408.8L675.8,386.2L657.9,365.3L643.2,353.3L626.0,343.5L607.6,338.3L589.3,337.9L570.6,342.2ZM560.7,358.1L556.1,361.8L552.3,367.0L547.7,375.5L544.5,384.3L537.9,412.5L535.0,437.6L535.4,460.2L538.2,485.2L544.7,518.6L550.1,532.1L560.3,545.2L574.4,556.2L593.4,566.4L616.4,574.4L633.9,577.4L649.5,576.7L661.0,574.1L680.4,565.2L684.2,562.3L689.3,555.9L698.3,538.9L705.4,517.0L707.5,500.2L706.5,483.8L702.5,465.2L692.4,435.0L683.2,415.2L672.5,399.8L651.6,374.5L637.0,362.3L623.2,354.1L607.1,348.9L591.1,348.0L574.5,351.3ZM566.5,365.8L561.4,369.9L558.8,373.3L552.3,387.9L546.0,414.9L543.3,438.9L543.7,460.3L546.3,484.3L552.2,515.1L556.7,527.6L565.8,539.3L578.2,549.0L596.0,558.5L617.1,565.9L631.8,568.6L646.4,568.2L656.6,566.0L672.7,558.6L676.4,555.9L680.2,551.3L688.3,536.0L694.7,516.2L696.7,500.8L695.8,485.9L692.1,468.6L683.7,442.9L674.8,422.6L663.9,406.6L644.0,382.5L633.0,372.8L619.8,364.4L606.0,359.5L592.5,358.2L578.6,360.4ZM572.9,373.2L565.2,380.1L560.8,389.5L554.8,413.4L551.7,437.3L551.6,456.8L553.9,479.7L559.5,510.9L563.2,522.8L570.1,532.3L580.2,540.6L595.9,549.5L613.2,556.1L627.8,559.6L639.7,560.0L650.6,558.4L663.1,553.0L668.4,549.5L671.3,546.4L676.9,536.2L683.8,516.8L685.9,502.1L685.1,487.9L681.8,472.4L673.6,447.3L666.8,431.0L659.3,418.8L639.4,393.7L630.7,385.0L618.2,376.0L607.8,371.0L596.7,368.7L585.1,369.2ZM584.6,379.6L575.3,384.1L569.0,392.3L563.6,412.4L560.6,431.5L559.6,450.5L561.1,471.8L564.6,494.7L569.4,516.8L573.6,524.1L580.5,530.8L591.2,537.8L603.7,543.9L617.4,548.7L629.5,551.2L639.6,551.2L648.9,549.2L658.7,544.3L664.5,538.2L670.8,523.6L674.8,508.3L675.1,497.6L673.6,484.9L669.0,467.8L662.1,447.8L657.0,436.1L652.0,427.6L633.4,403.6L624.6,394.1L614.1,386.3L604.2,381.1L594.7,379.0ZM606.6,394.3L598.5,391.2L591.9,391.1L587.6,392.1L583.7,393.9L578.6,398.0L574.9,403.4L573.4,407.5L569.2,429.8L567.9,451.6L570.2,478.7L576.2,511.1L578.8,517.5L583.2,522.6L590.2,527.7L601.6,534.0L613.3,538.6L625.0,541.9L633.1,542.8L641.7,541.9L648.6,539.1L652.3,536.4L656.6,531.0L659.7,523.8L664.3,506.0L664.1,495.1L662.5,485.1L653.3,455.5L645.2,437.3L621.2,406.3L615.6,400.8ZM632.4,438.0L613.7,414.9L608.2,411.6L602.1,409.9L597.9,409.9L591.7,411.3L587.9,413.2L584.5,415.8L580.6,420.8L577.8,428.7L576.1,446.7L578.4,478.5L583.8,507.9L585.5,511.9L589.4,517.1L599.8,523.9L612.7,529.6L624.7,533.2L633.3,533.4L641.4,530.3L644.8,527.6L648.7,522.5L653.3,508.4L653.1,494.1L648.3,474.9L638.2,447.6ZM624.7,446.1L620.1,441.4L614.4,438.2L605.8,436.8L599.3,438.0L593.6,441.1L588.9,445.8L585.9,451.6L584.7,458.0L587.6,484.8L590.5,500.5L592.6,506.5L596.4,511.6L601.5,515.5L612.9,520.9L619.3,522.3L627.8,521.2L635.2,517.0L640.4,510.2L642.7,502.0L641.6,491.5L636.8,475.0L629.6,455.1Z" fill="none" stroke="#1a1a1a" stroke-opacity="0.60" stroke-width="1.2" stroke-linejoin="round"/>
<path d="M685.5,158.8C688.0,160.1 691.1,165.6 692.4,171.3C693.7,177.1 693.5,186.5 693.4,193.2C693.3,200.0 693.6,205.8 691.8,212.0C690.0,218.3 684.7,225.9 682.4,230.8C680.0,235.8 677.2,237.9 677.7,241.8C678.2,245.7 681.1,250.4 685.5,254.3C690.0,258.2 698.1,261.6 704.3,265.3C710.6,268.9 718.2,273.4 723.1,276.3C728.1,279.1 730.7,282.4 734.1,282.5C737.5,282.7 739.6,277.7 743.5,277.2C747.4,276.7 753.4,277.2 757.6,279.4C761.7,281.6 765.4,285.9 768.5,290.4C771.7,294.8 774.5,300.8 776.4,306.0C778.2,311.2 777.9,315.4 779.5,321.7C781.1,327.9 783.7,336.3 785.8,343.6C787.9,350.9 789.7,358.2 792.0,365.5C794.4,372.8 797.8,380.7 799.9,387.5C801.9,394.2 803.4,399.5 804.6,406.2C805.8,413.0 807.3,421.4 807.1,428.2C806.8,435.0 806.3,441.7 803.0,447.0C799.7,452.2 792.3,457.7 787.3,459.5C782.4,461.3 776.8,456.4 773.2,457.9C769.7,459.5 769.6,463.4 766.1,468.9C762.6,474.4 758.3,483.6 752.3,490.9C746.3,498.3 737.2,507.0 730.3,513.0C723.4,518.9 717.4,522.8 711.0,526.8C704.5,530.7 697.6,535.9 691.7,536.4C685.7,536.9 680.2,533.4 675.1,529.5C670.1,525.6 665.9,519.9 661.4,513.0C656.8,506.0 651.2,492.2 647.9,487.7C644.7,483.2 645.3,487.2 641.7,486.1C638.0,485.1 631.0,483.8 626.0,481.4C621.1,479.1 615.1,476.2 611.9,472.0C608.8,467.9 609.0,462.1 607.2,456.4C605.4,450.6 603.0,443.8 601.0,437.6C598.9,431.3 597.3,425.0 594.7,418.8C592.1,412.5 589.5,406.8 585.3,400.0C581.1,393.2 574.3,384.8 569.6,378.1C564.9,371.3 561.3,366.6 557.1,359.3C552.9,352.0 547.7,341.5 544.6,334.2C541.4,326.9 539.1,322.7 538.3,315.4C537.5,308.1 538.8,298.7 539.9,290.4C540.9,282.0 542.2,273.1 544.6,265.3C546.9,257.5 549.8,249.4 554.0,243.4C558.1,237.4 564.4,233.4 569.6,229.3C574.9,225.1 580.6,221.1 585.3,218.3C590.0,215.5 593.6,214.0 597.8,212.7C602.0,211.4 605.1,210.7 610.4,210.5C615.6,210.3 622.9,211.2 629.1,211.4C635.4,211.7 643.2,212.7 647.9,212.0C652.6,211.4 654.5,210.5 657.3,207.3C660.2,204.2 662.8,198.7 665.2,193.2C667.5,187.8 669.3,179.4 671.4,174.5C673.5,169.5 675.3,166.1 677.7,163.5C680.0,160.9 683.1,157.5 685.5,158.8Z" fill="rgba(101,148,175,0.70)" stroke="#000" stroke-width="1.5"/>
<path d="M685.5,158.8C688.0,160.1 691.1,165.6 692.4,171.3C693.7,177.1 693.5,186.5 693.4,193.2C693.3,200.0 693.6,205.8 691.8,212.0C690.0,218.3 684.7,225.9 682.4,230.8C680.0,235.8 677.2,237.9 677.7,241.8C678.2,245.7 681.1,250.4 685.5,254.3C690.0,258.2 698.1,261.6 704.3,265.3C710.6,268.9 718.2,273.4 723.1,276.3C728.1,279.1 730.7,282.4 734.1,282.5C737.5,282.7 739.6,277.7 743.5,277.2C747.4,276.7 753.4,277.2 757.6,279.4C761.7,281.6 765.4,285.9 768.5,290.4C771.7,294.8 774.5,300.8 776.4,306.0C778.2,311.2 777.9,315.4 779.5,321.7C781.1,327.9 783.7,336.3 785.8,343.6C787.9,350.9 789.7,358.2 792.0,365.5C794.4,372.8 797.8,380.7 799.9,387.5C801.9,394.2 803.4,399.5 804.6,406.2C805.8,413.0 807.3,421.4 807.1,428.2C806.8,435.0 806.3,441.7 803.0,447.0C799.7,452.2 792.3,457.7 787.3,459.5C782.4,461.3 776.8,456.4 773.2,457.9C769.7,459.5 769.6,463.4 766.1,468.9C762.6,474.4 758.3,483.6 752.3,490.9C746.3,498.3 737.2,507.0 730.3,513.0C723.4,518.9 717.4,522.8 711.0,526.8C704.5,530.7 697.6,535.9 691.7,536.4C685.7,536.9 680.2,533.4 675.1,529.5C670.1,525.6 665.9,519.9 661.4,513.0C656.8,506.0 651.2,492.2 647.9,487.7C644.7,483.2 645.3,487.2 641.7,486.1C638.0,485.1 631.0,483.8 626.0,481.4C621.1,479.1 615.1,476.2 611.9,472.0C608.8,467.9 609.0,462.1 607.2,456.4C605.4,450.6 603.0,443.8 601.0,437.6C598.9,431.3 597.3,425.0 594.7,418.8C592.1,412.5 589.5,406.8 585.3,400.0C581.1,393.2 574.3,384.8 569.6,378.1C564.9,371.3 561.3,366.6 557.1,359.3C552.9,352.0 547.7,341.5 544.6,334.2C541.4,326.9 539.1,322.7 538.3,315.4C537.5,308.1 538.8,298.7 539.9,290.4C540.9,282.0 542.2,273.1 544.6,265.3C546.9,257.5 549.8,249.4 554.0,243.4C558.1,237.4 564.4,233.4 569.6,229.3C574.9,225.1 580.6,221.1 585.3,218.3C590.0,215.5 593.6,214.0 597.8,212.7C602.0,211.4 605.1,210.7 610.4,210.5C615.6,210.3 622.9,211.2 629.1,211.4C635.4,211.7 643.2,212.7 647.9,212.0C652.6,211.4 654.5,210.5 657.3,207.3C660.2,204.2 662.8,198.7 665.2,193.2C667.5,187.8 669.3,179.4 671.4,174.5C673.5,169.5 675.3,166.1 677.7,163.5C680.0,160.9 683.1,157.5 685.5,158.8Z" fill="url(#mesh)"/>
<path d="M617.2,467.4L620.6,472.2L630.3,477.7L641.8,481.2L648.4,481.3L651.8,483.0L655.9,488.1L666.6,509.0L674.5,520.4L684.2,529.1L689.3,531.6L693.2,532.0L700.1,529.2L718.6,517.5L739.2,499.8L751.4,486.0L766.6,459.7L770.1,455.5L775.7,453.3L785.4,455.1L789.9,454.0L798.2,447.2L801.6,440.3L802.6,424.7L798.9,402.2L786.3,363.5L775.4,324.9L772.7,310.9L769.3,302.3L763.0,292.4L756.0,286.2L748.5,284.8L738.4,289.8L731.5,289.3L688.2,264.1L679.4,256.5L674.4,248.2L673.4,244.2L673.6,240.0L686.2,215.8L688.8,205.1L687.1,198.9L681.8,195.3L677.1,195.3L673.1,197.6L663.7,212.7L659.8,216.4L655.4,218.6L645.3,219.9L609.2,218.3L599.8,220.6L589.9,225.2L568.9,240.3L561.7,247.1L555.7,257.7L550.5,274.2L545.9,308.3L545.9,316.1L547.3,322.8L554.4,339.4L564.0,358.0L590.4,395.9L597.7,408.7L604.6,425.5L614.6,456.1ZM562.4,313.9L564.3,322.6L578.5,351.9L604.7,389.5L612.6,403.4L618.8,417.4L630.4,452.7L633.3,458.6L637.9,463.4L641.7,465.7L655.7,469.0L663.5,473.5L670.1,481.5L680.1,500.8L684.5,505.8L688.1,508.3L694.3,510.6L703.0,510.6L709.2,508.3L717.5,502.4L730.1,491.0L739.6,480.7L758.5,449.2L765.4,443.5L779.5,437.0L785.1,430.5L786.9,426.6L788.0,420.2L785.9,407.0L773.6,369.4L760.9,322.7L758.2,316.8L753.9,312.0L748.4,308.6L742.2,306.9L730.9,306.0L724.3,303.3L679.4,276.8L673.1,271.7L667.0,264.5L657.6,245.1L654.8,242.0L649.5,238.5L641.4,236.4L616.9,234.8L608.9,235.6L597.7,240.7L578.6,254.8L572.5,262.4L567.5,276.6L564.4,293.2ZM579.4,310.6L580.3,319.4L592.1,344.2L619.0,383.0L627.7,398.3L634.5,414.0L644.3,443.3L647.8,448.7L654.6,454.0L665.6,457.8L675.0,463.7L680.5,469.5L688.8,481.7L695.9,486.9L702.2,488.7L708.8,488.6L713.0,487.4L718.8,484.2L730.6,471.5L748.8,441.1L755.3,435.0L765.6,428.0L769.5,422.8L771.8,416.7L772.1,410.3L771.3,406.0L761.8,378.6L749.8,336.9L746.8,331.4L740.6,325.8L718.8,318.2L672.7,291.0L665.5,285.2L659.1,278.4L648.8,261.5L645.9,258.2L640.5,254.5L634.2,252.6L618.5,251.6L611.9,252.8L603.2,257.9L590.0,268.4L586.5,273.7L583.5,282.7ZM596.4,309.2L597.3,318.6L602.8,330.7L610.0,343.8L632.2,375.0L639.9,387.7L649.6,408.8L657.7,432.9L661.2,438.3L666.1,442.5L682.0,450.6L693.7,461.0L699.5,464.1L706.0,465.4L710.3,465.1L716.6,463.2L720.3,460.9L724.9,456.2L731.7,443.8L739.1,433.0L751.3,421.2L753.6,417.4L755.6,411.0L755.2,402.1L749.2,384.8L740.0,352.8L736.1,345.2L729.5,339.6L713.2,333.0L666.0,305.1L652.8,293.8L638.3,275.0L632.9,271.5L628.8,270.1L622.4,269.5L616.1,270.9L610.5,274.0L604.4,279.2L601.0,284.5L599.6,288.5ZM665.9,323.3L659.9,320.9L653.5,320.3L647.2,321.6L641.5,324.6L637.0,329.2L634.0,334.9L632.7,341.2L634.0,349.7L635.8,353.6L649.0,372.5L656.8,386.0L665.2,404.9L671.3,422.9L674.8,428.6L679.8,432.9L696.7,442.3L703.1,443.7L711.6,442.6L715.6,440.8L720.7,436.8L729.4,424.9L735.4,418.4L739.2,410.6L740.0,404.2L739.4,399.8L728.8,364.1L725.6,358.6L721.1,354.3L707.8,347.8Z" fill="none" stroke="#1a1a1a" stroke-opacity="0.60" stroke-width="1.2" stroke-linejoin="round"/>
<path d="M655.8,433.0C660.2,428.0 669.6,429.3 675.1,424.8C680.6,420.2 684.8,412.4 688.9,405.5C693.1,398.6 695.4,389.4 699.9,383.4C704.5,377.4 710.1,373.3 716.5,369.6C722.9,365.9 730.7,363.6 738.5,361.4C746.3,359.1 754.6,357.4 763.3,355.8C772.1,354.2 782.6,352.4 790.9,351.7C799.2,351.0 806.1,350.6 813.0,351.7C819.9,352.9 825.4,355.4 832.3,358.6C839.2,361.8 846.5,365.9 854.3,371.0C862.1,376.1 870.9,382.7 879.1,388.9C887.4,395.1 896.1,401.8 903.9,408.2C911.8,414.6 919.1,421.1 926.0,427.5C932.9,433.9 939.8,439.9 945.3,446.8C950.8,453.7 954.9,461.5 959.1,468.9C963.2,476.2 966.9,482.6 970.1,490.9C973.3,499.2 976.1,509.3 978.4,518.5C980.7,527.7 982.7,536.9 983.9,546.1C985.0,555.2 985.3,564.4 985.3,573.6C985.3,582.8 985.0,592.9 983.9,601.2C982.7,609.5 980.7,616.3 978.4,623.2C976.1,630.1 973.3,636.6 970.1,642.5C966.9,648.5 962.3,654.5 959.1,659.1C955.9,663.7 953.3,665.5 950.8,670.1C948.3,674.7 946.2,682.0 943.9,686.6C941.6,691.2 940.5,694.9 937.0,697.7C933.6,700.4 927.8,701.8 923.2,703.2C918.6,704.6 914.1,705.0 909.5,705.9C904.9,706.9 900.3,706.9 895.7,708.7C891.1,710.5 886.5,714.4 881.9,717.0C877.3,719.5 872.2,721.8 868.1,723.9C864.0,725.9 860.8,729.1 857.1,729.4C853.4,729.6 849.7,727.8 846.1,725.2C842.4,722.7 838.7,717.9 835.0,714.2C831.3,710.5 827.7,707.1 824.0,703.2C820.3,699.3 817.1,694.0 813.0,690.8C808.8,687.6 804.7,686.2 799.2,683.9C793.7,681.6 786.8,679.5 779.9,677.0C773.0,674.5 765.2,671.3 757.8,668.7C750.5,666.2 741.8,664.8 735.8,661.8C729.8,658.8 726.1,654.9 722.0,650.8C717.9,646.7 714.6,642.1 711.0,637.0C707.3,632.0 703.2,626.0 699.9,620.5C696.7,615.0 694.9,610.4 691.7,603.9C688.5,597.5 684.8,589.2 680.6,581.9C676.5,574.5 671.0,567.6 666.9,559.8C662.7,552.0 658.8,543.8 655.8,535.0C652.9,526.3 650.4,516.6 648.9,507.5C647.5,498.3 647.0,488.6 647.0,479.9C647.0,471.2 647.5,462.9 648.9,455.1C650.4,447.3 651.5,438.1 655.8,433.0Z" fill="rgba(114,165,139,0.70)" stroke="#000" stroke-width="1.5"/>
<path d="M655.8,433.0C660.2,428.0 669.6,429.3 675.1,424.8C680.6,420.2 684.8,412.4 688.9,405.5C693.1,398.6 695.4,389.4 699.9,383.4C704.5,377.4 710.1,373.3 716.5,369.6C722.9,365.9 730.7,363.6 738.5,361.4C746.3,359.1 754.6,357.4 763.3,355.8C772.1,354.2 782.6,352.4 790.9,351.7C799.2,351.0 806.1,350.6 813.0,351.7C819.9,352.9 825.4,355.4 832.3,358.6C839.2,361.8 846.5,365.9 854.3,371.0C862.1,376.1 870.9,382.7 879.1,388.9C887.4,395.1 896.1,401.8 903.9,408.2C911.8,414.6 919.1,421.1 926.0,427.5C932.9,433.9 939.8,439.9 945.3,446.8C950.8,453.7 954.9,461.5 959.1,468.9C963.2,476.2 966.9,482.6 970.1,490.9C973.3,499.2 976.1,509.3 978.4,518.5C980.7,527.7 982.7,536.9 983.9,546.1C985.0,555.2 985.3,564.4 985.3,573.6C985.3,582.8 985.0,592.9 983.9,601.2C982.7,609.5 980.7,616.3 978.4,623.2C976.1,630.1 973.3,636.6 970.1,642.5C966.9,648.5 962.3,654.5 959.1,659.1C955.9,663.7 953.3,665.5 950.8,670.1C948.3,674.7 946.2,682.0 943.9,686.6C941.6,691.2 940.5,694.9 937.0,697.7C933.6,700.4 927.8,701.8 923.2,703.2C918.6,704.6 914.1,705.0 909.5,705.9C904.9,706.9 900.3,706.9 895.7,708.7C891.1,710.5 886.5,714.4 881.9,717.0C877.3,719.5 872.2,721.8 868.1,723.9C864.0,725.9 860.8,729.1 857.1,729.4C853.4,729.6 849.7,727.8 846.1,725.2C842.4,722.7 838.7,717.9 835.0,714.2C831.3,710.5 827.7,707.1 824.0,703.2C820.3,699.3 817.1,694.0 813.0,690.8C808.8,687.6 804.7,686.2 799.2,683.9C793.7,681.6 786.8,679.5 779.9,677.0C773.0,674.5 765.2,671.3 757.8,668.7C750.5,666.2 741.8,664.8 735.8,661.8C729.8,658.8 726.1,654.9 722.0,650.8C717.9,646.7 714.6,642.1 711.0,637.0C707.3,632.0 703.2,626.0 699.9,620.5C696.7,615.0 694.9,610.4 691.7,603.9C688.5,597.5 684.8,589.2 680.6,581.9C676.5,574.5 671.0,567.6 666.9,559.8C662.7,552.0 658.8,543.8 655.8,535.0C652.9,526.3 650.4,516.6 648.9,507.5C647.5,498.3 647.0,488.6 647.0,479.9C647.0,471.2 647.5,462.9 648.9,455.1C650.4,447.3 651.5,438.1 655.8,433.0Z" fill="url(#mesh)"/>
<path d="M662.1,435.4L658.1,438.2L655.3,445.0L652.1,462.4L651.2,474.4L652.5,504.1L658.6,531.0L668.8,555.5L685.6,583.2L703.3,618.8L719.3,642.0L729.0,652.5L733.8,656.3L739.4,659.3L761.4,665.9L797.9,679.2L811.2,685.1L818.5,690.8L826.9,700.8L845.6,720.1L853.3,724.7L858.8,724.0L893.3,704.8L919.5,699.7L929.8,696.4L934.1,693.6L945.7,668.3L963.5,643.3L971.8,625.1L975.8,612.3L978.0,601.3L979.3,567.7L978.4,550.8L975.8,534.2L969.9,510.2L964.6,493.8L958.2,480.2L945.8,458.4L938.6,448.6L929.4,439.2L896.9,410.6L850.8,376.1L836.9,367.9L822.0,360.8L813.3,357.9L804.0,356.9L784.0,358.3L753.8,363.5L730.6,369.6L718.2,374.8L709.6,380.6L702.8,387.6L692.3,409.0L685.7,419.8L680.1,427.0L673.8,431.8ZM684.7,441.1L672.3,448.6L668.2,453.3L665.7,458.9L664.3,467.4L663.7,481.9L664.3,497.5L666.0,509.6L669.7,525.1L673.7,536.7L679.9,550.1L696.5,577.5L714.0,612.8L727.9,633.1L736.3,642.5L743.4,647.5L765.2,654.2L801.6,667.5L815.5,673.5L826.1,681.1L845.4,702.0L854.3,706.1L860.2,706.5L865.9,705.2L885.8,693.8L893.8,691.3L913.9,687.8L919.1,685.4L923.6,681.7L926.8,676.9L933.2,662.2L950.2,638.7L957.5,623.4L961.8,610.1L963.7,600.8L964.9,572.0L964.3,556.0L962.3,541.1L956.9,518.2L952.0,501.9L946.6,489.7L934.9,468.8L928.7,459.8L921.3,452.0L887.6,422.1L845.3,390.2L831.9,382.0L818.2,375.1L810.6,372.3L803.3,371.3L784.7,372.6L755.5,377.6L736.2,382.6L723.3,387.8L717.0,392.2L713.0,396.4L703.4,416.0L692.1,433.6ZM695.8,449.4L682.3,460.0L679.7,463.4L677.2,469.3L676.5,473.5L677.1,500.1L682.4,524.5L691.1,545.1L707.5,572.0L724.3,606.0L732.9,619.3L742.8,631.8L750.5,636.8L768.9,642.4L819.3,661.6L832.3,670.2L845.6,684.7L849.1,687.1L855.0,689.4L861.3,689.9L867.5,688.6L883.6,680.8L904.6,676.1L911.9,671.3L915.9,666.1L922.7,653.0L937.9,632.4L943.3,621.3L947.4,609.1L949.4,599.9L950.5,573.2L949.9,558.0L948.1,544.6L938.5,507.9L933.7,496.7L922.4,476.7L917.3,469.2L911.0,462.6L880.8,435.6L839.1,403.9L816.0,390.3L807.3,386.6L801.1,385.7L782.8,387.3L757.3,391.8L739.3,396.4L728.5,400.9L722.5,406.9L714.3,423.4L703.2,441.0ZM698.0,465.3L691.3,473.0L688.9,483.0L690.2,503.7L695.2,523.6L702.2,539.9L718.4,566.4L735.2,600.5L750.1,621.4L757.3,625.8L772.7,630.6L823.0,649.8L835.7,657.3L849.4,669.7L857.2,673.2L861.5,673.7L867.9,673.0L882.2,667.7L894.0,664.9L902.6,659.2L911.3,645.4L925.2,626.6L930.3,616.0L935.2,598.2L936.1,571.0L935.3,557.5L933.4,545.2L924.2,511.4L909.1,483.1L899.0,471.5L868.8,444.9L830.7,416.1L811.0,404.2L804.7,401.4L798.5,400.3L783.8,401.5L759.3,405.9L743.4,409.9L737.8,412.5L731.8,418.3L724.3,432.5L713.0,450.1L704.1,460.2ZM722.8,459.3L703.9,480.6L701.6,489.1L703.0,504.6L707.2,520.7L714.1,536.1L729.3,560.8L746.1,594.9L757.2,610.4L764.2,614.8L811.0,631.5L828.0,638.6L841.8,646.6L852.9,655.5L858.9,658.1L867.5,658.5L883.9,654.0L887.9,652.1L893.0,647.9L912.5,620.8L917.3,610.8L921.1,595.9L921.6,569.7L919.2,548.5L910.7,517.2L896.8,491.3L888.8,482.2L861.8,458.3L824.4,429.7L804.5,417.4L794.7,414.9L781.7,416.3L758.6,420.5L751.0,422.5L745.5,425.4L739.9,431.3L730.2,448.4ZM732.6,468.5L717.1,486.8L714.7,495.2L715.7,505.0L719.4,518.2L725.5,531.4L741.1,556.7L757.3,589.8L764.3,599.4L771.0,603.9L830.3,626.1L843.2,632.9L854.7,641.0L860.5,643.7L866.8,644.5L873.1,643.5L878.6,641.2L883.3,637.3L899.6,615.4L903.4,607.8L906.7,596.0L907.3,573.3L905.5,554.4L898.1,525.5L895.1,518.4L886.2,502.4L880.2,494.4L852.5,469.7L818.2,443.4L801.3,432.4L791.7,429.7L762.1,434.3L754.4,437.6L748.4,443.5ZM745.4,473.5L731.0,491.7L728.5,499.5L728.7,505.7L731.2,514.4L736.0,525.0L752.1,551.4L768.5,584.5L772.9,589.8L780.1,594.0L833.4,614.0L856.5,625.9L863.0,626.8L867.4,626.4L873.5,624.1L878.7,620.1L888.5,607.1L891.7,598.5L892.9,585.7L892.3,564.3L889.3,548.4L883.4,528.1L873.3,509.5L866.3,501.7L843.0,481.1L814.9,459.4L798.5,447.9L790.2,444.8L783.5,444.9L770.3,447.2L760.9,451.4L756.5,455.9ZM795.6,463.6L789.9,460.7L781.4,459.8L772.1,462.2L765.5,467.2L744.5,497.7L742.8,506.5L743.4,511.0L745.8,517.2L760.7,541.5L777.3,574.6L783.0,580.9L788.6,583.9L826.9,598.0L850.3,608.1L858.7,608.9L866.7,606.4L871.9,602.7L874.6,599.4L877.4,593.7L878.4,587.5L877.5,563.3L873.2,544.5L869.3,532.7L861.8,519.1L857.7,513.9L831.2,490.5ZM798.3,483.8L792.4,480.7L783.7,479.5L775.2,481.7L769.8,485.5L761.4,496.9L758.9,503.0L758.4,509.7L760.8,518.1L773.1,538.5L786.3,564.9L791.9,571.0L797.3,574.0L834.8,587.8L843.4,588.5L851.5,585.9L855.1,583.5L859.4,578.6L861.4,574.8L862.8,568.5L861.2,556.8L855.6,538.2L849.0,526.6L846.0,523.2L824.0,503.7Z" fill="none" stroke="#1a1a1a" stroke-opacity="0.60" stroke-width="1.2" stroke-linejoin="round"/>
<path d="M976.7,646.2C982.7,643.2 988.0,642.5 994.8,640.6C1001.5,638.7 1009.8,636.7 1017.3,635.0C1024.8,633.3 1032.4,631.4 1039.9,630.5C1047.4,629.5 1054.9,628.8 1062.4,629.3C1070.0,629.9 1077.5,632.0 1085.0,633.8C1092.5,635.7 1100.4,638.4 1107.6,640.6C1114.7,642.9 1121.5,644.7 1127.9,647.4C1134.3,650.0 1141.0,652.3 1145.9,656.4C1150.8,660.5 1153.4,666.6 1157.2,672.2C1161.0,677.8 1164.3,684.2 1168.5,690.2C1172.6,696.3 1176.7,702.3 1182.0,708.3C1187.3,714.3 1194.4,720.3 1200.1,726.3C1205.7,732.4 1211.5,738.4 1215.8,744.4C1220.2,750.4 1223.2,756.0 1226.0,762.4C1228.8,768.8 1231.2,776.0 1232.8,782.7C1234.4,789.5 1235.5,795.9 1235.7,803.0C1235.9,810.2 1234.8,818.1 1233.9,825.6C1233.0,833.1 1232.0,841.4 1230.5,848.2C1229.0,854.9 1227.3,860.2 1224.9,866.2C1222.4,872.2 1219.6,878.2 1215.8,884.3C1212.1,890.3 1207.2,897.0 1202.3,902.3C1197.4,907.6 1192.5,913.2 1186.5,915.8C1180.5,918.5 1173.4,918.3 1166.2,918.1C1159.1,917.9 1151.2,915.5 1143.7,914.7C1136.1,914.0 1127.9,914.5 1121.1,913.6C1114.3,912.7 1108.7,911.0 1103.0,909.1C1097.4,907.2 1092.5,904.9 1087.3,902.3C1082.0,899.7 1077.1,895.2 1071.5,893.3C1065.8,891.4 1059.1,890.7 1053.4,891.0C1047.8,891.4 1042.9,894.6 1037.6,895.5C1032.4,896.5 1026.3,897.8 1021.8,896.7C1017.3,895.5 1014.3,892.7 1010.5,888.8C1006.8,884.8 1002.7,878.6 999.3,873.0C995.9,867.3 993.3,861.3 990.2,854.9C987.2,848.5 984.6,841.4 981.2,834.6C977.8,827.9 973.7,820.0 969.9,814.3C966.2,808.7 962.8,804.9 958.7,800.8C954.5,796.7 949.1,793.6 945.1,789.5C941.2,785.4 937.2,781.2 935.0,776.0C932.7,770.7 931.8,763.9 931.6,757.9C931.4,751.9 932.5,745.9 933.8,739.9C935.2,733.9 937.8,728.6 939.5,721.8C941.2,715.1 942.5,706.8 944.0,699.3C945.5,691.7 946.1,683.5 948.5,676.7C950.9,669.9 954.0,663.7 958.7,658.7C963.4,653.6 970.7,649.3 976.7,646.2Z" fill="rgba(148,188,119,0.70)" stroke="#000" stroke-width="1.5"/>
<path d="M976.7,646.2C982.7,643.2 988.0,642.5 994.8,640.6C1001.5,638.7 1009.8,636.7 1017.3,635.0C1024.8,633.3 1032.4,631.4 1039.9,630.5C1047.4,629.5 1054.9,628.8 1062.4,629.3C1070.0,629.9 1077.5,632.0 1085.0,633.8C1092.5,635.7 1100.4,638.4 1107.6,640.6C1114.7,642.9 1121.5,644.7 1127.9,647.4C1134.3,650.0 1141.0,652.3 1145.9,656.4C1150.8,660.5 1153.4,666.6 1157.2,672.2C1161.0,677.8 1164.3,684.2 1168.5,690.2C1172.6,696.3 1176.7,702.3 1182.0,708.3C1187.3,714.3 1194.4,720.3 1200.1,726.3C1205.7,732.4 1211.5,738.4 1215.8,744.4C1220.2,750.4 1223.2,756.0 1226.0,762.4C1228.8,768.8 1231.2,776.0 1232.8,782.7C1234.4,789.5 1235.5,795.9 1235.7,803.0C1235.9,810.2 1234.8,818.1 1233.9,825.6C1233.0,833.1 1232.0,841.4 1230.5,848.2C1229.0,854.9 1227.3,860.2 1224.9,866.2C1222.4,872.2 1219.6,878.2 1215.8,884.3C1212.1,890.3 1207.2,897.0 1202.3,902.3C1197.4,907.6 1192.5,913.2 1186.5,915.8C1180.5,918.5 1173.4,918.3 1166.2,918.1C1159.1,917.9 1151.2,915.5 1143.7,914.7C1136.1,914.0 1127.9,914.5 1121.1,913.6C1114.3,912.7 1108.7,911.0 1103.0,909.1C1097.4,907.2 1092.5,904.9 1087.3,902.3C1082.0,899.7 1077.1,895.2 1071.5,893.3C1065.8,891.4 1059.1,890.7 1053.4,891.0C1047.8,891.4 1042.9,894.6 1037.6,895.5C1032.4,896.5 1026.3,897.8 1021.8,896.7C1017.3,895.5 1014.3,892.7 1010.5,888.8C1006.8,884.8 1002.7,878.6 999.3,873.0C995.9,867.3 993.3,861.3 990.2,854.9C987.2,848.5 984.6,841.4 981.2,834.6C977.8,827.9 973.7,820.0 969.9,814.3C966.2,808.7 962.8,804.9 958.7,800.8C954.5,796.7 949.1,793.6 945.1,789.5C941.2,785.4 937.2,781.2 935.0,776.0C932.7,770.7 931.8,763.9 931.6,757.9C931.4,751.9 932.5,745.9 933.8,739.9C935.2,733.9 937.8,728.6 939.5,721.8C941.2,715.1 942.5,706.8 944.0,699.3C945.5,691.7 946.1,683.5 948.5,676.7C950.9,669.9 954.0,663.7 958.7,658.7C963.4,653.6 970.7,649.3 976.7,646.2Z" fill="url(#mesh)"/>
<path d="M981.4,654.4L972.7,659.4L967.0,663.9L962.6,670.0L959.1,677.8L950.9,719.6L943.8,744.3L942.8,753.0L943.4,762.3L945.0,768.2L948.2,773.5L954.3,779.9L967.8,791.4L979.3,805.4L991.1,826.7L1006.7,860.7L1017.2,876.6L1022.5,880.7L1028.3,882.1L1035.1,881.1L1050.8,876.7L1059.8,876.6L1068.3,877.8L1078.4,881.0L1090.8,888.5L1100.8,893.3L1112.1,897.1L1121.5,899.1L1143.6,900.2L1161.9,903.3L1170.5,903.7L1178.8,903.0L1184.8,899.7L1195.7,888.2L1203.6,877.4L1210.2,865.5L1215.7,851.5L1219.3,835.8L1222.4,810.4L1222.8,798.9L1221.3,787.8L1215.9,769.0L1206.8,751.0L1196.8,738.8L1167.9,708.6L1156.2,692.2L1138.6,664.4L1131.9,659.9L1115.8,653.5L1083.8,643.6L1060.4,638.8L1048.4,639.0L1032.8,641.2L1005.0,647.6ZM959.6,745.8L959.4,752.4L962.1,760.7L966.3,765.8L980.9,778.7L990.9,791.0L1004.2,814.0L1019.8,847.9L1024.0,853.0L1029.6,856.6L1038.1,858.5L1054.4,856.9L1070.6,858.6L1082.0,861.9L1101.8,873.0L1117.1,878.6L1125.1,880.0L1145.8,881.0L1164.2,883.7L1172.4,882.1L1179.4,877.5L1187.3,867.4L1193.9,855.9L1198.3,845.1L1200.9,835.2L1205.0,802.4L1203.7,788.3L1198.6,771.1L1194.3,762.1L1189.3,754.6L1155.8,719.2L1142.7,701.3L1127.9,677.8L1120.2,671.3L1080.9,658.2L1065.7,654.4L1056.5,653.2L1033.1,655.8L987.1,667.7L979.0,673.4L974.4,680.7L966.6,721.0ZM982.6,721.4L977.9,740.4L978.2,744.7L981.2,752.7L996.5,769.2L1005.3,780.7L1017.0,800.9L1028.8,826.4L1032.9,831.6L1036.4,834.3L1044.6,837.3L1064.2,838.0L1080.4,841.2L1092.1,845.7L1111.1,856.4L1125.0,860.5L1158.7,862.4L1163.0,861.4L1168.7,858.4L1174.9,851.4L1179.7,841.6L1182.7,832.5L1186.9,802.5L1186.6,791.1L1182.5,776.1L1175.1,762.5L1141.8,727.4L1128.1,708.9L1115.2,688.6L1109.2,683.3L1075.7,672.1L1055.1,667.7L1037.6,669.5L1001.6,678.3L996.1,681.3L993.0,684.2L988.6,691.3ZM997.0,728.2L996.6,737.1L999.7,745.4L1018.4,768.5L1027.9,784.3L1039.2,806.9L1041.8,810.6L1047.0,814.9L1053.2,817.5L1070.2,819.3L1085.9,822.8L1098.8,828.0L1116.1,837.9L1126.6,841.1L1148.8,841.3L1156.5,838.0L1162.5,832.0L1165.9,823.2L1169.3,795.0L1167.6,785.1L1164.1,775.8L1158.1,767.3L1127.7,735.6L1115.0,718.4L1103.5,700.7L1096.6,694.7L1070.2,686.0L1053.1,682.2L1040.4,683.6L1015.9,689.4L1008.7,693.6L1003.6,700.1L1001.6,706.1ZM1034.4,760.6L1052.7,792.5L1059.8,797.5L1089.9,804.1L1105.6,810.3L1120.7,818.6L1126.9,820.1L1131.1,820.0L1137.2,818.4L1144.2,813.8L1149.0,806.8L1151.2,796.1L1150.4,787.2L1146.2,778.1L1115.1,745.5L1089.9,710.7L1086.5,707.7L1080.5,704.8L1052.0,697.0L1044.7,697.5L1032.1,700.2L1026.3,702.5L1022.8,704.8L1019.9,707.9L1016.7,713.3L1014.1,726.1L1014.5,730.6L1016.9,737.0Z" fill="none" stroke="#1a1a1a" stroke-opacity="0.60" stroke-width="1.2" stroke-linejoin="round"/>
<path d="M1476.3,941.3C1483.3,941.3 1493.0,946.6 1500.4,950.1C1507.7,953.6 1514.4,957.8 1520.4,962.1C1526.4,966.5 1532.5,969.8 1536.5,976.2C1540.5,982.5 1542.5,991.6 1544.5,1000.2C1546.5,1008.9 1546.5,1018.3 1548.5,1028.3C1550.5,1038.3 1553.2,1050.4 1556.5,1060.4C1559.9,1070.4 1564.9,1079.1 1568.5,1088.5C1572.2,1097.8 1575.9,1106.5 1578.6,1116.5C1581.2,1126.5 1583.3,1137.9 1584.6,1148.6C1585.9,1159.3 1586.9,1170.0 1586.6,1180.7C1586.3,1191.4 1584.9,1203.4 1582.6,1212.8C1580.2,1222.1 1576.9,1230.5 1572.6,1236.8C1568.2,1243.2 1563.2,1247.4 1556.5,1250.8C1549.8,1254.3 1539.8,1256.0 1532.5,1257.7C1525.1,1259.3 1519.1,1261.7 1512.4,1260.9C1505.7,1260.1 1499.0,1256.9 1492.4,1252.8C1485.7,1248.8 1478.3,1242.8 1472.3,1236.8C1466.3,1230.8 1461.6,1223.4 1456.3,1216.8C1450.9,1210.1 1446.3,1203.4 1440.2,1196.7C1434.2,1190.0 1426.2,1184.7 1420.2,1176.7C1414.2,1168.6 1408.5,1158.6 1404.2,1148.6C1399.8,1138.6 1397.1,1127.2 1394.1,1116.5C1391.1,1105.8 1388.4,1094.5 1386.1,1084.4C1383.8,1074.4 1381.1,1065.7 1380.1,1056.4C1379.1,1047.0 1378.8,1035.3 1380.1,1028.3C1381.4,1021.3 1384.1,1017.9 1388.1,1014.3C1392.1,1010.6 1398.8,1008.9 1404.2,1006.3C1409.5,1003.6 1415.2,1001.6 1420.2,998.2C1425.2,994.9 1430.2,991.2 1434.2,986.2C1438.2,981.2 1440.2,974.2 1444.3,968.2C1448.3,962.1 1452.9,954.6 1458.3,950.1C1463.6,945.6 1469.3,941.3 1476.3,941.3Z" fill="rgba(159,189,96,0.70)" stroke="#000" stroke-width="1.5"/>
<path d="M1476.3,941.3C1483.3,941.3 1493.0,946.6 1500.4,950.1C1507.7,953.6 1514.4,957.8 1520.4,962.1C1526.4,966.5 1532.5,969.8 1536.5,976.2C1540.5,982.5 1542.5,991.6 1544.5,1000.2C1546.5,1008.9 1546.5,1018.3 1548.5,1028.3C1550.5,1038.3 1553.2,1050.4 1556.5,1060.4C1559.9,1070.4 1564.9,1079.1 1568.5,1088.5C1572.2,1097.8 1575.9,1106.5 1578.6,1116.5C1581.2,1126.5 1583.3,1137.9 1584.6,1148.6C1585.9,1159.3 1586.9,1170.0 1586.6,1180.7C1586.3,1191.4 1584.9,1203.4 1582.6,1212.8C1580.2,1222.1 1576.9,1230.5 1572.6,1236.8C1568.2,1243.2 1563.2,1247.4 1556.5,1250.8C1549.8,1254.3 1539.8,1256.0 1532.5,1257.7C1525.1,1259.3 1519.1,1261.7 1512.4,1260.9C1505.7,1260.1 1499.0,1256.9 1492.4,1252.8C1485.7,1248.8 1478.3,1242.8 1472.3,1236.8C1466.3,1230.8 1461.6,1223.4 1456.3,1216.8C1450.9,1210.1 1446.3,1203.4 1440.2,1196.7C1434.2,1190.0 1426.2,1184.7 1420.2,1176.7C1414.2,1168.6 1408.5,1158.6 1404.2,1148.6C1399.8,1138.6 1397.1,1127.2 1394.1,1116.5C1391.1,1105.8 1388.4,1094.5 1386.1,1084.4C1383.8,1074.4 1381.1,1065.7 1380.1,1056.4C1379.1,1047.0 1378.8,1035.3 1380.1,1028.3C1381.4,1021.3 1384.1,1017.9 1388.1,1014.3C1392.1,1010.6 1398.8,1008.9 1404.2,1006.3C1409.5,1003.6 1415.2,1001.6 1420.2,998.2C1425.2,994.9 1430.2,991.2 1434.2,986.2C1438.2,981.2 1440.2,974.2 1444.3,968.2C1448.3,962.1 1452.9,954.6 1458.3,950.1C1463.6,945.6 1469.3,941.3 1476.3,941.3Z" fill="url(#mesh)"/>
<path d="M1403.7,1020.7L1397.3,1025.3L1393.7,1032.3L1393.3,1044.0L1394.9,1059.5L1405.5,1103.8L1414.3,1135.0L1420.3,1149.0L1429.6,1164.8L1434.8,1171.2L1452.9,1188.9L1480.7,1224.4L1491.1,1233.8L1501.6,1241.0L1510.4,1245.1L1516.9,1245.8L1544.4,1239.5L1553.9,1235.1L1559.0,1230.5L1563.0,1224.5L1566.5,1216.7L1569.6,1205.5L1572.6,1179.0L1571.2,1153.1L1568.3,1133.7L1564.0,1115.6L1555.5,1092.6L1544.9,1068.5L1540.6,1055.1L1534.7,1029.7L1530.8,1002.0L1527.2,988.4L1524.3,982.3L1517.0,975.8L1497.0,963.0L1483.4,956.6L1478.6,955.8L1473.9,956.4L1468.2,959.2L1463.3,964.2L1455.2,976.1L1446.8,991.7L1439.1,1000.4L1424.9,1010.8ZM1415.4,1024.9L1408.4,1030.2L1404.1,1037.7L1402.9,1044.1L1403.9,1054.8L1413.7,1096.5L1422.2,1127.5L1427.3,1140.7L1435.6,1155.8L1441.5,1163.5L1460.6,1182.2L1487.9,1217.1L1503.1,1229.8L1509.9,1233.4L1518.3,1234.6L1541.0,1229.6L1547.9,1226.4L1552.8,1221.9L1555.5,1217.4L1558.9,1208.1L1561.1,1198.9L1563.1,1174.9L1561.3,1149.4L1558.2,1130.7L1554.1,1114.8L1546.7,1095.1L1536.1,1071.0L1531.4,1056.5L1525.3,1030.3L1521.6,1003.5L1519.3,994.1L1516.6,988.2L1510.6,982.0L1493.1,970.8L1484.9,968.3L1476.4,969.2L1470.6,972.0L1465.8,976.3L1454.4,996.3L1445.6,1006.3L1431.0,1017.2ZM1438.9,1022.5L1420.3,1033.2L1416.2,1038.3L1413.7,1044.5L1413.4,1053.2L1422.9,1093.3L1431.3,1123.7L1435.6,1135.1L1441.6,1146.5L1448.0,1155.5L1467.8,1175.2L1494.2,1208.9L1504.9,1218.5L1511.4,1222.1L1519.7,1223.4L1533.1,1220.7L1539.1,1218.5L1544.1,1214.7L1547.9,1209.6L1551.7,1196.2L1553.6,1173.3L1551.4,1146.3L1548.3,1128.6L1544.9,1116.2L1527.3,1073.6L1522.5,1058.9L1516.0,1031.0L1512.3,1004.5L1508.6,993.5L1504.3,988.3L1495.3,982.4L1486.8,980.6L1478.3,982.3L1474.5,984.4L1469.6,988.7L1461.3,1002.1L1452.2,1012.2ZM1453.8,1022.3L1430.3,1038.4L1426.4,1043.8L1424.3,1050.1L1424.2,1056.8L1439.5,1117.0L1443.1,1127.5L1448.3,1138.1L1454.7,1147.7L1472.4,1164.9L1500.4,1200.5L1506.2,1206.3L1513.5,1210.6L1519.8,1211.7L1526.1,1211.1L1532.0,1208.6L1535.4,1206.1L1539.5,1201.2L1542.8,1190.8L1544.1,1169.4L1541.5,1143.1L1538.3,1126.6L1535.2,1116.0L1518.5,1076.1L1514.5,1064.3L1508.5,1040.9L1504.7,1019.5L1502.5,1013.5L1498.6,1008.5L1491.6,1003.8L1483.3,1002.2L1477.0,1003.1L1469.5,1006.9ZM1466.2,1023.8L1440.7,1042.7L1437.1,1048.0L1435.2,1054.2L1435.2,1060.7L1448.5,1113.0L1455.3,1130.0L1461.7,1140.2L1479.5,1157.6L1497.8,1179.9L1503.3,1183.3L1509.5,1185.1L1516.0,1184.9L1522.2,1182.9L1529.0,1177.6L1531.4,1174.0L1533.8,1168.0L1534.1,1160.4L1531.5,1139.9L1526.1,1117.8L1506.9,1070.9L1496.2,1032.3L1492.3,1027.2L1487.0,1023.4L1480.9,1021.3L1474.4,1021.1Z" fill="none" stroke="#1a1a1a" stroke-opacity="0.60" stroke-width="1.2" stroke-linejoin="round"/>
<path d="M1664.8,1095.3C1669.5,1095.6 1677.1,1096.9 1680.8,1100.5C1684.5,1104.0 1683.5,1108.5 1686.8,1116.5C1690.2,1124.5 1695.9,1137.9 1700.9,1148.6C1705.9,1159.3 1711.6,1170.0 1716.9,1180.7C1722.3,1191.4 1728.3,1202.1 1732.9,1212.8C1737.6,1223.4 1741.3,1233.5 1745.0,1244.8C1748.6,1256.2 1752.3,1268.2 1755.0,1280.9C1757.7,1293.6 1759.5,1307.6 1761.0,1321.0C1762.5,1334.4 1764.2,1349.7 1764.2,1361.1C1764.2,1372.5 1762.9,1381.2 1761.0,1389.2C1759.1,1397.2 1756.3,1403.2 1753.0,1409.2C1749.6,1415.2 1745.6,1421.4 1741.0,1425.3C1736.3,1429.1 1730.3,1431.3 1724.9,1432.5C1719.6,1433.7 1714.9,1433.7 1708.9,1432.5C1702.9,1431.3 1696.2,1427.8 1688.8,1425.3C1681.5,1422.7 1672.8,1419.6 1664.8,1417.2C1656.8,1414.9 1648.7,1413.9 1640.7,1411.2C1632.7,1408.6 1624.0,1405.2 1616.7,1401.2C1609.3,1397.2 1603.0,1393.2 1596.6,1387.2C1590.3,1381.2 1582.6,1374.1 1578.6,1365.1C1574.6,1356.1 1573.6,1343.7 1572.6,1333.0C1571.6,1322.3 1571.9,1310.3 1572.6,1301.0C1573.2,1291.6 1573.9,1284.9 1576.6,1276.9C1579.2,1268.9 1585.3,1260.9 1588.6,1252.8C1591.9,1244.8 1594.3,1238.1 1596.6,1228.8C1599.0,1219.4 1601.0,1207.4 1602.6,1196.7C1604.3,1186.0 1605.0,1174.0 1606.6,1164.6C1608.3,1155.3 1609.6,1147.3 1612.7,1140.6C1615.7,1133.9 1620.0,1129.6 1624.7,1124.5C1629.4,1119.5 1636.0,1114.8 1640.7,1110.5C1645.4,1106.2 1648.7,1101.0 1652.8,1098.5C1656.8,1095.9 1660.1,1094.9 1664.8,1095.3Z" fill="rgba(184,188,84,0.70)" stroke="#000" stroke-width="1.5"/>
<path d="M1664.8,1095.3C1669.5,1095.6 1677.1,1096.9 1680.8,1100.5C1684.5,1104.0 1683.5,1108.5 1686.8,1116.5C1690.2,1124.5 1695.9,1137.9 1700.9,1148.6C1705.9,1159.3 1711.6,1170.0 1716.9,1180.7C1722.3,1191.4 1728.3,1202.1 1732.9,1212.8C1737.6,1223.4 1741.3,1233.5 1745.0,1244.8C1748.6,1256.2 1752.3,1268.2 1755.0,1280.9C1757.7,1293.6 1759.5,1307.6 1761.0,1321.0C1762.5,1334.4 1764.2,1349.7 1764.2,1361.1C1764.2,1372.5 1762.9,1381.2 1761.0,1389.2C1759.1,1397.2 1756.3,1403.2 1753.0,1409.2C1749.6,1415.2 1745.6,1421.4 1741.0,1425.3C1736.3,1429.1 1730.3,1431.3 1724.9,1432.5C1719.6,1433.7 1714.9,1433.7 1708.9,1432.5C1702.9,1431.3 1696.2,1427.8 1688.8,1425.3C1681.5,1422.7 1672.8,1419.6 1664.8,1417.2C1656.8,1414.9 1648.7,1413.9 1640.7,1411.2C1632.7,1408.6 1624.0,1405.2 1616.7,1401.2C1609.3,1397.2 1603.0,1393.2 1596.6,1387.2C1590.3,1381.2 1582.6,1374.1 1578.6,1365.1C1574.6,1356.1 1573.6,1343.7 1572.6,1333.0C1571.6,1322.3 1571.9,1310.3 1572.6,1301.0C1573.2,1291.6 1573.9,1284.9 1576.6,1276.9C1579.2,1268.9 1585.3,1260.9 1588.6,1252.8C1591.9,1244.8 1594.3,1238.1 1596.6,1228.8C1599.0,1219.4 1601.0,1207.4 1602.6,1196.7C1604.3,1186.0 1605.0,1174.0 1606.6,1164.6C1608.3,1155.3 1609.6,1147.3 1612.7,1140.6C1615.7,1133.9 1620.0,1129.6 1624.7,1124.5C1629.4,1119.5 1636.0,1114.8 1640.7,1110.5C1645.4,1106.2 1648.7,1101.0 1652.8,1098.5C1656.8,1095.9 1660.1,1094.9 1664.8,1095.3Z" fill="url(#mesh)"/>
<path d="M1665.8,1107.0L1661.6,1107.6L1658.6,1109.2L1647.8,1120.3L1633.8,1132.4L1624.7,1142.6L1620.3,1151.7L1615.9,1173.0L1610.4,1214.3L1605.4,1237.9L1599.1,1256.7L1587.1,1280.4L1584.0,1291.1L1582.4,1305.3L1581.8,1324.2L1584.8,1355.7L1588.0,1366.1L1594.8,1375.9L1608.5,1389.0L1622.5,1398.0L1644.9,1407.3L1672.1,1414.3L1710.3,1427.9L1717.2,1429.1L1723.8,1428.7L1734.7,1424.9L1741.7,1418.6L1751.0,1402.9L1755.8,1388.1L1757.9,1372.6L1757.8,1356.2L1754.9,1325.7L1750.8,1295.7L1747.0,1277.3L1742.0,1259.6L1735.1,1238.9L1727.5,1219.6L1695.5,1155.7L1681.4,1123.5L1677.6,1112.8L1673.0,1108.5ZM1680.0,1140.2L1676.0,1134.2L1669.9,1130.3L1664.7,1129.1L1657.5,1129.9L1652.7,1132.2L1641.7,1141.4L1634.0,1149.8L1630.5,1155.8L1626.2,1174.7L1621.5,1210.7L1615.0,1243.6L1608.3,1263.5L1596.5,1287.0L1593.7,1296.5L1591.7,1327.7L1593.9,1354.4L1596.6,1365.2L1602.2,1373.9L1614.9,1386.1L1627.8,1394.5L1649.7,1403.6L1676.4,1410.4L1714.0,1423.8L1723.5,1424.7L1732.1,1421.8L1738.0,1416.5L1746.4,1401.6L1750.3,1387.9L1751.8,1375.4L1751.7,1360.1L1745.6,1305.8L1738.8,1274.4L1726.6,1237.8L1720.3,1222.8L1692.2,1167.2ZM1604.8,1362.2L1608.1,1369.8L1614.3,1376.8L1624.0,1385.4L1635.6,1392.3L1653.5,1399.5L1680.3,1406.4L1712.9,1417.8L1721.4,1418.6L1727.6,1417.1L1731.4,1415.0L1737.4,1409.1L1742.6,1397.4L1744.8,1387.0L1745.8,1376.1L1744.4,1350.3L1738.8,1305.8L1730.4,1271.9L1723.8,1251.7L1716.5,1233.5L1679.9,1159.5L1674.1,1153.0L1666.3,1149.2L1657.6,1148.8L1649.4,1151.7L1642.4,1158.2L1638.9,1165.3L1635.5,1182.7L1629.9,1224.3L1624.6,1249.4L1617.6,1270.3L1605.8,1293.8L1603.4,1301.8L1601.6,1331.8L1602.8,1349.8ZM1615.1,1300.5L1612.7,1309.9L1611.5,1328.0L1611.7,1342.3L1613.5,1359.3L1616.8,1369.0L1627.2,1379.9L1637.5,1387.0L1650.7,1393.2L1660.5,1396.5L1684.5,1402.5L1710.9,1411.4L1715.3,1412.0L1721.8,1411.4L1727.9,1408.8L1732.9,1404.6L1735.4,1401.0L1737.8,1394.8L1739.4,1384.6L1739.6,1372.3L1734.9,1325.2L1729.3,1294.5L1719.5,1262.1L1709.7,1237.4L1684.5,1188.0L1680.3,1183.1L1676.7,1180.6L1668.5,1178.0L1659.9,1178.6L1652.2,1182.6L1646.7,1189.2L1644.4,1195.3L1639.6,1229.7L1633.2,1258.9L1625.1,1281.3ZM1692.0,1220.4L1688.4,1215.2L1683.4,1211.2L1677.5,1208.9L1671.2,1208.3L1664.9,1209.6L1661.1,1211.4L1656.2,1215.5L1652.6,1220.7L1650.7,1226.8L1645.7,1253.3L1641.3,1269.6L1635.1,1286.5L1625.0,1306.1L1622.9,1312.5L1621.3,1335.7L1622.9,1358.9L1624.8,1366.4L1628.2,1371.6L1636.6,1379.5L1647.1,1385.8L1662.8,1392.0L1684.5,1397.4L1706.4,1404.4L1714.9,1404.7L1721.1,1402.8L1726.4,1399.2L1730.4,1394.2L1732.9,1388.2L1733.4,1372.6L1729.5,1334.7L1724.4,1304.2L1716.3,1275.9L1705.8,1247.8ZM1697.8,1249.3L1694.1,1243.9L1690.9,1241.0L1687.1,1238.8L1680.8,1236.9L1674.3,1237.1L1668.1,1239.1L1662.8,1242.8L1659.9,1246.1L1657.0,1252.0L1652.4,1270.7L1646.8,1287.1L1633.2,1315.9L1631.5,1330.0L1631.4,1348.1L1632.5,1359.8L1634.2,1366.1L1637.7,1371.6L1645.6,1378.4L1654.2,1383.2L1667.1,1388.2L1700.3,1397.0L1706.7,1397.4L1715.0,1395.2L1721.7,1389.9L1725.9,1382.5L1727.1,1374.1L1722.8,1334.8L1718.4,1309.3L1708.1,1274.8ZM1702.2,1280.6L1699.2,1274.8L1696.2,1271.6L1690.7,1268.0L1686.6,1266.5L1680.0,1266.0L1675.7,1266.7L1671.6,1268.3L1666.2,1272.1L1661.3,1279.3L1652.6,1302.5L1643.6,1320.0L1642.2,1324.5L1641.4,1334.2L1641.1,1348.8L1642.3,1361.4L1644.5,1367.5L1648.3,1372.7L1656.6,1378.3L1667.2,1382.8L1696.4,1390.1L1704.8,1389.0L1712.2,1384.9L1717.5,1378.3L1719.9,1370.1L1717.9,1348.8L1714.0,1322.2L1709.7,1304.1ZM1704.0,1310.5L1701.3,1304.6L1697.1,1299.7L1691.6,1296.2L1685.4,1294.5L1678.9,1294.7L1674.7,1295.9L1669.1,1299.1L1664.7,1303.9L1653.3,1326.2L1651.9,1330.8L1651.1,1340.9L1651.1,1354.6L1652.2,1362.4L1656.6,1370.2L1661.7,1374.6L1676.1,1380.5L1690.2,1383.3L1696.7,1382.5L1700.8,1380.8L1706.1,1377.0L1708.9,1373.6L1712.2,1365.4L1712.5,1358.9L1708.7,1331.4Z" fill="none" stroke="#1a1a1a" stroke-opacity="0.60" stroke-width="1.2" stroke-linejoin="round"/>
<path d="M1716.9,1040.3C1720.6,1038.0 1726.9,1040.0 1730.9,1042.3C1734.9,1044.7 1737.3,1050.0 1741.0,1054.4C1744.6,1058.7 1749.0,1062.1 1753.0,1068.4C1757.0,1074.8 1762.0,1083.1 1765.0,1092.5C1768.0,1101.8 1769.4,1113.8 1771.0,1124.5C1772.7,1135.2 1773.4,1144.6 1775.0,1156.6C1776.7,1168.6 1778.7,1183.3 1781.1,1196.7C1783.4,1210.1 1786.4,1223.4 1789.1,1236.8C1791.8,1250.2 1794.4,1263.5 1797.1,1276.9C1799.8,1290.3 1802.4,1303.6 1805.1,1317.0C1807.8,1330.4 1811.1,1343.7 1813.1,1357.1C1815.1,1370.5 1816.3,1383.8 1817.1,1397.2C1817.9,1410.6 1818.6,1425.3 1817.9,1437.3C1817.3,1449.3 1815.9,1461.0 1813.1,1469.4C1810.3,1477.7 1805.8,1483.9 1801.1,1487.4C1796.4,1490.9 1791.1,1490.9 1785.1,1490.2C1779.1,1489.5 1771.7,1486.9 1765.0,1483.4C1758.3,1479.9 1751.7,1475.0 1745.0,1469.4C1738.3,1463.7 1731.6,1457.3 1724.9,1449.3C1718.2,1441.3 1710.9,1430.6 1704.9,1421.3C1698.9,1411.9 1693.5,1402.5 1688.8,1393.2C1684.2,1383.8 1680.1,1375.1 1676.8,1365.1C1673.5,1355.1 1671.1,1344.4 1668.8,1333.0C1666.5,1321.7 1664.4,1309.0 1662.8,1297.0C1661.1,1284.9 1659.4,1272.9 1658.8,1260.9C1658.1,1248.8 1658.1,1236.8 1658.8,1224.8C1659.4,1212.8 1660.8,1200.1 1662.8,1188.7C1664.8,1177.3 1667.8,1166.6 1670.8,1156.6C1673.8,1146.6 1677.1,1137.9 1680.8,1128.5C1684.5,1119.2 1689.5,1109.2 1692.8,1100.5C1696.2,1091.8 1698.2,1083.8 1700.9,1076.4C1703.5,1069.1 1706.2,1062.4 1708.9,1056.4C1711.6,1050.4 1713.2,1042.7 1716.9,1040.3Z" fill="rgba(208,165,51,0.70)" stroke="#000" stroke-width="1.5"/>
<path d="M1716.9,1040.3C1720.6,1038.0 1726.9,1040.0 1730.9,1042.3C1734.9,1044.7 1737.3,1050.0 1741.0,1054.4C1744.6,1058.7 1749.0,1062.1 1753.0,1068.4C1757.0,1074.8 1762.0,1083.1 1765.0,1092.5C1768.0,1101.8 1769.4,1113.8 1771.0,1124.5C1772.7,1135.2 1773.4,1144.6 1775.0,1156.6C1776.7,1168.6 1778.7,1183.3 1781.1,1196.7C1783.4,1210.1 1786.4,1223.4 1789.1,1236.8C1791.8,1250.2 1794.4,1263.5 1797.1,1276.9C1799.8,1290.3 1802.4,1303.6 1805.1,1317.0C1807.8,1330.4 1811.1,1343.7 1813.1,1357.1C1815.1,1370.5 1816.3,1383.8 1817.1,1397.2C1817.9,1410.6 1818.6,1425.3 1817.9,1437.3C1817.3,1449.3 1815.9,1461.0 1813.1,1469.4C1810.3,1477.7 1805.8,1483.9 1801.1,1487.4C1796.4,1490.9 1791.1,1490.9 1785.1,1490.2C1779.1,1489.5 1771.7,1486.9 1765.0,1483.4C1758.3,1479.9 1751.7,1475.0 1745.0,1469.4C1738.3,1463.7 1731.6,1457.3 1724.9,1449.3C1718.2,1441.3 1710.9,1430.6 1704.9,1421.3C1698.9,1411.9 1693.5,1402.5 1688.8,1393.2C1684.2,1383.8 1680.1,1375.1 1676.8,1365.1C1673.5,1355.1 1671.1,1344.4 1668.8,1333.0C1666.5,1321.7 1664.4,1309.0 1662.8,1297.0C1661.1,1284.9 1659.4,1272.9 1658.8,1260.9C1658.1,1248.8 1658.1,1236.8 1658.8,1224.8C1659.4,1212.8 1660.8,1200.1 1662.8,1188.7C1664.8,1177.3 1667.8,1166.6 1670.8,1156.6C1673.8,1146.6 1677.1,1137.9 1680.8,1128.5C1684.5,1119.2 1689.5,1109.2 1692.8,1100.5C1696.2,1091.8 1698.2,1083.8 1700.9,1076.4C1703.5,1069.1 1706.2,1062.4 1708.9,1056.4C1711.6,1050.4 1713.2,1042.7 1716.9,1040.3Z" fill="url(#mesh)"/>
<path d="M1739.1,1074.4L1734.5,1071.0L1727.6,1069.6L1720.7,1071.6L1715.6,1076.5L1704.1,1109.0L1692.0,1137.4L1683.4,1160.9L1675.4,1191.1L1671.7,1216.8L1670.3,1251.5L1672.3,1282.0L1678.9,1326.5L1686.0,1358.5L1693.4,1379.2L1706.8,1405.8L1727.0,1436.8L1736.3,1448.6L1745.8,1458.5L1757.5,1468.6L1768.2,1475.9L1779.5,1481.1L1787.9,1482.5L1793.4,1481.0L1798.8,1476.3L1802.4,1467.8L1804.5,1457.3L1806.0,1440.9L1806.1,1422.6L1802.6,1373.1L1799.6,1353.6L1769.3,1203.3L1755.3,1107.2L1750.0,1091.8ZM1749.8,1133.3L1747.9,1127.1L1742.6,1120.2L1737.2,1116.6L1730.9,1114.8L1724.4,1114.9L1718.2,1116.9L1712.9,1120.7L1708.9,1125.8L1694.1,1161.8L1684.1,1197.7L1681.6,1213.6L1679.7,1235.0L1680.0,1272.9L1685.5,1316.2L1692.0,1349.9L1697.9,1370.8L1707.6,1392.5L1724.8,1422.3L1736.4,1438.9L1745.2,1449.5L1762.8,1465.6L1768.7,1468.3L1777.4,1469.0L1783.7,1467.3L1789.2,1463.8L1793.4,1458.8L1796.1,1452.8L1797.2,1431.8L1795.1,1393.0L1790.8,1360.0L1760.3,1209.1ZM1745.2,1173.3L1743.4,1167.1L1739.9,1161.7L1733.0,1156.4L1726.8,1154.5L1720.3,1154.5L1714.1,1156.3L1707.1,1161.4L1703.5,1166.8L1694.6,1196.4L1690.6,1218.8L1688.4,1248.1L1689.3,1280.3L1693.8,1315.0L1699.0,1344.5L1704.4,1366.2L1711.2,1383.9L1728.0,1415.1L1748.2,1443.7L1752.5,1448.0L1758.1,1451.3L1762.3,1452.4L1768.8,1452.6L1775.0,1450.8L1780.5,1447.3L1784.7,1442.4L1787.3,1436.5L1788.0,1430.0L1786.2,1398.2L1782.0,1366.2L1752.5,1220.7ZM1743.0,1223.2L1740.9,1217.1L1737.2,1211.9L1732.2,1208.0L1726.2,1205.6L1719.8,1205.2L1713.5,1206.6L1709.7,1208.5L1704.8,1212.7L1700.5,1220.1L1698.6,1232.4L1697.3,1256.5L1697.9,1280.1L1701.4,1309.4L1706.2,1339.0L1711.2,1361.7L1716.8,1378.6L1726.8,1399.4L1737.9,1418.1L1742.6,1422.5L1746.4,1424.7L1752.7,1426.4L1757.0,1426.4L1765.3,1424.1L1772.1,1418.7L1776.2,1411.1L1777.1,1402.5L1773.1,1372.0Z" fill="none" stroke="#1a1a1a" stroke-opacity="0.60" stroke-width="1.2" stroke-linejoin="round"/>
</g>
<g id="curves">
<path d="M410.0,199.5C422.9,205.4 461.3,223.1 487.1,234.9C512.9,246.7 538.9,258.5 564.7,270.3C590.5,282.2 616.4,294.0 641.9,305.8C667.5,317.6 692.9,329.4 717.8,341.2C742.8,353.0 767.5,364.8 791.8,376.6C816.0,388.4 839.9,400.2 863.2,412.0C886.5,423.8 909.4,435.7 931.7,447.5C953.9,459.3 975.7,471.1 996.9,482.9C1018.1,494.7 1038.8,506.5 1058.9,518.3C1078.9,530.1 1098.4,541.9 1117.3,553.7C1136.2,565.5 1154.5,577.3 1172.3,589.2C1190.1,601.0 1207.2,612.8 1223.9,624.6C1240.5,636.4 1256.6,648.2 1272.1,660.0C1287.7,671.8 1302.7,683.6 1317.2,695.4C1331.7,707.2 1345.7,719.0 1359.3,730.8C1372.8,742.7 1385.8,754.5 1398.5,766.3C1411.1,778.1 1423.2,789.9 1435.0,801.7C1446.8,813.5 1458.1,825.3 1469.1,837.1C1480.0,848.9 1490.6,860.7 1500.8,872.5C1511.0,884.3 1520.9,896.2 1530.4,908.0C1540.0,919.8 1549.2,931.6 1558.1,943.4C1567.0,955.2 1575.6,967.0 1583.9,978.8C1592.2,990.6 1600.2,1002.4 1607.9,1014.2C1615.7,1026.0 1623.1,1037.8 1630.3,1049.7C1637.5,1061.5 1644.4,1073.3 1651.1,1085.1C1657.8,1096.9 1664.2,1108.7 1670.4,1120.5C1676.6,1132.3 1682.5,1144.1 1688.1,1155.9C1693.8,1167.7 1699.2,1179.5 1704.4,1191.3C1709.5,1203.2 1714.4,1215.0 1719.1,1226.8C1723.7,1238.6 1728.1,1250.4 1732.3,1262.2C1736.4,1274.0 1740.3,1285.8 1743.9,1297.6C1747.5,1309.4 1750.8,1321.2 1753.9,1333.0C1757.0,1344.8 1759.8,1356.7 1762.4,1368.5C1764.9,1380.3 1767.2,1392.1 1769.3,1403.9C1771.3,1415.7 1773.1,1427.5 1774.7,1439.3C1776.2,1451.1 1777.5,1462.9 1778.6,1474.7C1779.7,1486.5 1780.6,1498.3 1781.3,1510.2C1782.0,1522.0 1782.3,1533.8 1782.9,1545.6C1783.5,1557.4 1784.7,1575.1 1785.0,1581.0" fill="none" stroke="#888" stroke-width="5"/>
<line x1="408.4" y1="201.6" x2="1783.4" y2="1582.6" stroke="#111" stroke-width="0.9"/>
<line x1="410.3" y1="199.7" x2="1785.3" y2="1580.7" stroke="#fff" stroke-width="4.4"/>
<line x1="410.3" y1="199.7" x2="1785.3" y2="1580.7" stroke="#000" stroke-width="4.6" stroke-dasharray="0 7.55 4.6 9.11"/>
<path d="M410.0,199.5C415.9,205.3 433.4,222.6 445.7,234.2C458.0,245.7 470.6,257.3 483.8,268.8C496.9,280.4 510.7,291.9 524.8,303.5C538.8,315.0 553.4,326.6 568.1,338.1C582.9,349.7 598.0,361.2 613.2,372.8C628.5,384.3 644.0,395.9 659.6,407.4C675.2,419.0 691.0,430.5 706.8,442.1C722.6,453.6 738.5,465.2 754.4,476.7C770.4,488.3 786.3,499.8 802.3,511.4C818.2,522.9 834.1,534.5 850.0,546.0C865.8,557.6 881.6,569.1 897.3,580.7C913.0,592.2 928.6,603.8 944.1,615.3C959.6,626.9 975.0,638.4 990.2,650.0C1005.4,661.6 1020.5,673.1 1035.4,684.7C1050.4,696.2 1065.2,707.8 1079.7,719.3C1094.3,730.9 1108.8,742.4 1123.0,754.0C1137.2,765.5 1151.2,777.1 1165.1,788.6C1178.9,800.2 1192.6,811.7 1206.0,823.3C1219.4,834.8 1232.6,846.4 1245.6,857.9C1258.6,869.5 1271.4,881.0 1284.0,892.6C1296.6,904.1 1308.9,915.7 1321.0,927.2C1333.2,938.8 1345.0,950.3 1356.7,961.9C1368.4,973.4 1379.8,985.0 1391.0,996.5C1402.2,1008.1 1413.2,1019.6 1423.9,1031.2C1434.7,1042.7 1445.2,1054.3 1455.5,1065.8C1465.7,1077.4 1475.8,1088.9 1485.6,1100.5C1495.4,1112.1 1505.0,1123.6 1514.3,1135.2C1523.7,1146.7 1532.8,1158.3 1541.7,1169.8C1550.6,1181.4 1559.3,1192.9 1567.7,1204.5C1576.2,1216.0 1584.4,1227.6 1592.5,1239.1C1600.5,1250.7 1608.3,1262.2 1616.0,1273.8C1623.6,1285.3 1631.0,1296.9 1638.3,1308.4C1645.5,1320.0 1652.6,1331.5 1659.5,1343.1C1666.4,1354.6 1673.2,1366.2 1679.8,1377.7C1686.4,1389.3 1692.9,1400.8 1699.3,1412.4C1705.6,1423.9 1711.9,1435.5 1718.1,1447.0C1724.3,1458.6 1730.4,1470.1 1736.5,1481.7C1742.7,1493.2 1748.7,1504.8 1754.8,1516.3C1761.0,1527.9 1770.2,1545.2 1773.3,1551.0" fill="none" stroke="#000" stroke-width="6.5"/>
</g>
<g id="inset">
<path d="M509.0,796.4C511.7,796.0 518.4,795.7 525.3,794.0C532.2,792.3 542.0,788.7 550.4,786.4C558.8,784.1 567.0,781.8 575.4,780.0C583.8,778.2 592.1,776.8 600.5,775.6C608.9,774.4 617.2,773.6 625.6,773.0C634.0,772.4 642.2,772.1 650.6,772.0C659.0,771.9 667.3,772.2 675.7,772.6C684.1,773.0 692.4,773.4 700.8,774.6C709.1,775.8 717.4,777.0 725.8,780.0C734.1,783.0 742.5,786.9 750.9,792.7C759.3,798.5 768.5,806.3 776.0,815.0C783.5,823.7 790.2,834.9 796.0,845.0C801.8,855.1 806.4,865.3 811.0,875.4C815.6,885.5 819.4,895.5 823.6,905.5C827.8,915.5 831.4,924.6 836.0,935.5C840.6,946.4 846.0,959.4 851.0,970.6C856.0,981.9 861.0,993.0 866.0,1003.0C871.0,1013.0 875.8,1022.3 881.0,1030.8C886.2,1039.3 891.3,1046.8 897.0,1054.0C902.7,1061.2 908.7,1068.2 915.3,1074.0C921.9,1079.8 928.9,1084.7 936.4,1089.0C943.9,1093.3 951.5,1096.7 960.5,1099.7C969.5,1102.7 980.5,1104.8 990.5,1107.0C1000.5,1109.2 1010.6,1109.7 1020.6,1113.0C1030.6,1116.3 1040.7,1120.2 1050.7,1126.8C1060.7,1133.3 1071.8,1143.0 1080.8,1152.3C1089.8,1161.6 1097.3,1171.9 1104.8,1182.4C1112.3,1192.9 1119.9,1205.5 1125.9,1215.5C1131.9,1225.5 1135.9,1233.6 1140.9,1242.6C1145.9,1251.6 1151.0,1261.1 1156.0,1269.6C1161.0,1278.1 1166.0,1286.2 1171.0,1293.7C1176.0,1301.2 1181.0,1308.2 1186.0,1314.7C1191.0,1321.2 1196.0,1327.3 1201.0,1332.8C1206.0,1338.3 1211.0,1343.3 1216.0,1347.8C1221.0,1352.3 1225.5,1356.0 1231.0,1359.8C1236.5,1363.6 1243.0,1367.4 1249.0,1370.4C1255.0,1373.4 1260.2,1376.0 1267.2,1378.0C1274.2,1380.0 1282.3,1381.2 1291.3,1382.4C1300.3,1383.6 1311.1,1384.6 1321.4,1385.4C1331.7,1386.2 1347.7,1387.2 1353.0,1387.5L1345.4,1379.4C1342.9,1378.7 1336.4,1377.0 1330.4,1375.0C1324.4,1373.0 1316.9,1370.7 1309.3,1367.4C1301.7,1364.1 1293.0,1359.6 1285.0,1355.3C1277.0,1351.0 1269.0,1347.0 1261.0,1341.8C1253.0,1336.5 1245.0,1330.3 1237.0,1323.8C1229.0,1317.3 1221.0,1310.2 1213.0,1302.7C1205.0,1295.2 1197.0,1286.6 1189.0,1278.6C1181.0,1270.6 1173.0,1262.6 1165.0,1254.6C1157.0,1246.6 1148.4,1237.5 1140.9,1230.5C1133.4,1223.5 1126.8,1218.0 1119.8,1212.5C1112.8,1207.0 1106.3,1202.9 1098.8,1197.4C1091.3,1191.9 1082.7,1185.4 1074.7,1179.4C1066.7,1173.4 1058.2,1167.4 1050.7,1161.4C1043.2,1155.4 1036.6,1149.9 1029.6,1143.3C1022.6,1136.7 1015.1,1129.0 1008.6,1122.0C1002.1,1115.0 996.0,1108.0 990.5,1101.0C985.0,1094.0 980.5,1088.0 975.5,1080.0C970.5,1072.0 965.8,1063.0 960.5,1053.0C955.2,1043.0 949.1,1031.3 944.0,1020.0C938.9,1008.7 934.8,996.7 930.0,985.0C925.2,973.3 920.0,961.2 915.0,950.0C910.0,938.8 904.4,927.1 900.0,918.0C895.6,908.9 892.7,903.3 888.7,895.4C884.7,887.5 880.2,878.3 876.0,870.4C871.8,862.5 868.7,855.4 863.7,847.8C858.7,840.2 852.3,831.7 846.0,825.0C839.7,818.3 833.5,812.7 826.0,807.7C818.5,802.7 809.3,798.1 801.0,795.0C792.7,791.9 784.4,790.5 776.0,789.0C767.6,787.5 759.3,786.5 750.9,785.7C742.5,784.9 734.1,784.7 725.8,784.4C717.4,784.1 709.1,784.0 700.8,784.0C692.4,784.0 684.1,784.4 675.7,784.7C667.3,785.0 659.0,785.5 650.6,785.7C642.2,785.9 634.0,786.2 625.6,785.7C617.2,785.2 608.9,784.1 600.5,783.0C592.1,781.9 583.8,780.3 575.4,779.0C567.0,777.7 561.5,776.3 550.4,775.0C539.3,773.7 515.9,772.0 509.0,771.4Z" fill="#cbcbcb" stroke="none"/>
<path d="M509.0,796.4C511.7,796.0 518.4,795.7 525.3,794.0C532.2,792.3 542.0,788.7 550.4,786.4C558.8,784.1 567.0,781.8 575.4,780.0C583.8,778.2 592.1,776.8 600.5,775.6C608.9,774.4 617.2,773.6 625.6,773.0C634.0,772.4 642.2,772.1 650.6,772.0C659.0,771.9 667.3,772.2 675.7,772.6C684.1,773.0 692.4,773.4 700.8,774.6C709.1,775.8 717.4,777.0 725.8,780.0C734.1,783.0 742.5,786.9 750.9,792.7C759.3,798.5 768.5,806.3 776.0,815.0C783.5,823.7 790.2,834.9 796.0,845.0C801.8,855.1 806.4,865.3 811.0,875.4C815.6,885.5 819.4,895.5 823.6,905.5C827.8,915.5 831.4,924.6 836.0,935.5C840.6,946.4 846.0,959.4 851.0,970.6C856.0,981.9 861.0,993.0 866.0,1003.0C871.0,1013.0 875.8,1022.3 881.0,1030.8C886.2,1039.3 891.3,1046.8 897.0,1054.0C902.7,1061.2 908.7,1068.2 915.3,1074.0C921.9,1079.8 928.9,1084.7 936.4,1089.0C943.9,1093.3 951.5,1096.7 960.5,1099.7C969.5,1102.7 980.5,1104.8 990.5,1107.0C1000.5,1109.2 1010.6,1109.7 1020.6,1113.0C1030.6,1116.3 1040.7,1120.2 1050.7,1126.8C1060.7,1133.3 1071.8,1143.0 1080.8,1152.3C1089.8,1161.6 1097.3,1171.9 1104.8,1182.4C1112.3,1192.9 1119.9,1205.5 1125.9,1215.5C1131.9,1225.5 1135.9,1233.6 1140.9,1242.6C1145.9,1251.6 1151.0,1261.1 1156.0,1269.6C1161.0,1278.1 1166.0,1286.2 1171.0,1293.7C1176.0,1301.2 1181.0,1308.2 1186.0,1314.7C1191.0,1321.2 1196.0,1327.3 1201.0,1332.8C1206.0,1338.3 1211.0,1343.3 1216.0,1347.8C1221.0,1352.3 1225.5,1356.0 1231.0,1359.8C1236.5,1363.6 1243.0,1367.4 1249.0,1370.4C1255.0,1373.4 1260.2,1376.0 1267.2,1378.0C1274.2,1380.0 1282.3,1381.2 1291.3,1382.4C1300.3,1383.6 1311.1,1384.6 1321.4,1385.4C1331.7,1386.2 1347.7,1387.2 1353.0,1387.5" fill="none" stroke="#000" stroke-width="4.5"/>
<path d="M509.0,771.4C515.9,772.0 539.3,773.7 550.4,775.0C561.5,776.3 567.0,777.7 575.4,779.0C583.8,780.3 592.1,781.9 600.5,783.0C608.9,784.1 617.2,785.2 625.6,785.7C634.0,786.2 642.2,785.9 650.6,785.7C659.0,785.5 667.3,785.0 675.7,784.7C684.1,784.4 692.4,784.0 700.8,784.0C709.1,784.0 717.4,784.1 725.8,784.4C734.1,784.7 742.5,784.9 750.9,785.7C759.3,786.5 767.6,787.5 776.0,789.0C784.4,790.5 792.7,791.9 801.0,795.0C809.3,798.1 818.5,802.7 826.0,807.7C833.5,812.7 839.7,818.3 846.0,825.0C852.3,831.7 858.7,840.2 863.7,847.8C868.7,855.4 871.8,862.5 876.0,870.4C880.2,878.3 884.7,887.5 888.7,895.4C892.7,903.3 895.6,908.9 900.0,918.0C904.4,927.1 910.0,938.8 915.0,950.0C920.0,961.2 925.2,973.3 930.0,985.0C934.8,996.7 938.9,1008.7 944.0,1020.0C949.1,1031.3 955.2,1043.0 960.5,1053.0C965.8,1063.0 970.5,1072.0 975.5,1080.0C980.5,1088.0 985.0,1094.0 990.5,1101.0C996.0,1108.0 1002.1,1115.0 1008.6,1122.0C1015.1,1129.0 1022.6,1136.7 1029.6,1143.3C1036.6,1149.9 1043.2,1155.4 1050.7,1161.4C1058.2,1167.4 1066.7,1173.4 1074.7,1179.4C1082.7,1185.4 1091.3,1191.9 1098.8,1197.4C1106.3,1202.9 1112.8,1207.0 1119.8,1212.5C1126.8,1218.0 1133.4,1223.5 1140.9,1230.5C1148.4,1237.5 1157.0,1246.6 1165.0,1254.6C1173.0,1262.6 1181.0,1270.6 1189.0,1278.6C1197.0,1286.6 1205.0,1295.2 1213.0,1302.7C1221.0,1310.2 1229.0,1317.3 1237.0,1323.8C1245.0,1330.3 1253.0,1336.5 1261.0,1341.8C1269.0,1347.0 1277.0,1351.0 1285.0,1355.3C1293.0,1359.6 1301.7,1364.1 1309.3,1367.4C1316.9,1370.7 1324.4,1373.0 1330.4,1375.0C1336.4,1377.0 1342.9,1378.7 1345.4,1379.4" fill="none" stroke="#000" stroke-width="4.5" stroke-dasharray="26 12"/>
<path d="M509.0,870.4C510.9,877.9 516.3,900.5 520.3,915.5C524.3,930.5 528.6,945.6 532.8,960.6C537.0,975.6 541.6,993.2 545.4,1005.7C549.2,1018.2 551.6,1026.2 555.4,1035.8C559.2,1045.4 563.8,1055.7 568.0,1063.4C572.2,1071.1 576.3,1077.0 580.5,1082.0C584.7,1087.0 589.2,1091.1 593.0,1093.4C596.8,1095.7 599.7,1096.2 603.0,1096.0C606.3,1095.8 609.2,1094.9 613.0,1092.0C616.8,1089.1 621.4,1084.1 625.6,1078.4C629.8,1072.7 633.8,1065.6 638.0,1058.0C642.2,1050.4 646.4,1042.2 650.6,1033.0C654.8,1023.8 658.8,1013.0 663.0,1003.0C667.2,993.0 671.5,982.6 675.7,973.0C679.9,963.4 683.8,954.4 688.0,945.6C692.2,936.9 697.0,927.0 700.8,920.5C704.6,914.0 707.5,910.0 710.8,906.7C714.1,903.4 717.5,901.8 720.8,900.5C724.1,899.2 727.4,898.6 730.8,899.0C734.1,899.4 737.5,900.7 740.9,903.0C744.2,905.3 747.6,908.4 750.9,913.0C754.2,917.6 757.5,923.8 760.9,930.5C764.2,937.2 767.6,944.6 771.0,953.0C774.4,961.4 777.7,970.7 781.0,980.7C784.3,990.7 787.7,1001.3 791.0,1013.0C794.3,1024.7 797.7,1037.8 801.0,1050.8C804.3,1063.8 808.0,1077.6 811.0,1091.0C814.0,1104.4 815.2,1115.8 819.0,1131.0C822.8,1146.2 829.0,1166.3 834.0,1182.4C839.0,1198.5 844.0,1214.5 849.0,1227.5C854.0,1240.5 859.0,1251.6 864.0,1260.6C869.0,1269.6 874.0,1276.0 879.0,1281.7C884.0,1287.4 889.2,1291.7 894.3,1295.0C899.3,1298.3 904.3,1300.4 909.3,1301.8C914.3,1303.2 919.4,1303.6 924.4,1303.3C929.4,1303.0 934.4,1301.6 939.4,1299.7C944.4,1297.8 948.9,1295.3 954.4,1292.0C959.9,1288.7 966.5,1284.7 972.5,1280.0C978.5,1275.3 984.5,1268.3 990.5,1263.6C996.5,1258.9 1002.6,1254.7 1008.6,1251.6C1014.6,1248.5 1021.1,1246.3 1026.6,1245.0C1032.1,1243.7 1036.7,1243.2 1041.7,1244.0C1046.7,1244.8 1051.2,1246.2 1056.7,1250.0C1062.2,1253.8 1068.7,1259.8 1074.7,1266.6C1080.7,1273.4 1086.8,1282.5 1092.8,1290.7C1098.8,1298.9 1105.3,1308.0 1110.8,1316.0C1116.3,1324.0 1120.9,1332.5 1125.9,1338.8C1130.9,1345.1 1135.4,1349.3 1140.9,1353.8C1146.4,1358.3 1153.0,1362.1 1159.0,1365.9C1165.0,1369.7 1170.0,1373.4 1177.0,1376.4C1184.0,1379.4 1193.0,1382.1 1201.0,1384.0C1209.0,1385.9 1217.0,1387.1 1225.0,1387.8C1233.0,1388.5 1241.0,1388.5 1249.0,1388.4C1257.0,1388.4 1265.0,1388.0 1273.0,1387.5C1281.0,1387.0 1289.2,1386.0 1297.3,1385.4C1305.4,1384.8 1312.1,1384.2 1321.4,1384.0C1330.7,1383.8 1347.7,1384.0 1353.0,1384.0" fill="none" stroke="#000" stroke-width="3.2"/>
<path d="M509,744V1459H1353" fill="none" stroke="#000" stroke-width="4.5"/>
<path d="M509,770H559M509,901.4H559M509,1032.8H559M509,1163H559M509,1294.5H559M509,1426H559M895,1459V1413M1281,1459V1413" fill="none" stroke="#000" stroke-width="3.6"/>
<circle cx="509" cy="1426" r="5" fill="#7f8fc4"/>
<circle cx="547.6" cy="823.5" r="11.3" fill="#7fb09c" stroke="#000" stroke-width="4.2"/>
<circle cx="663.4" cy="789" r="11.3" fill="#7fb09c" stroke="#000" stroke-width="4.2"/>
<circle cx="702" cy="798.4" r="11.3" fill="#7fb09c" stroke="#000" stroke-width="4.2"/>
<circle cx="817.8" cy="908" r="11.3" fill="#7fb09c" stroke="#000" stroke-width="4.2"/>
<circle cx="547.6" cy="1011.5" r="11.3" fill="#d3bb4f" stroke="#000" stroke-width="4.2"/>
<circle cx="663.4" cy="1002" r="11.3" fill="#d3bb4f" stroke="#000" stroke-width="4.2"/>
<circle cx="702" cy="922.5" r="11.3" fill="#d3bb4f" stroke="#000" stroke-width="4.2"/>
<circle cx="817.4" cy="1128.9" r="11.3" fill="#d3bb4f" stroke="#000" stroke-width="4.2"/>
<circle cx="972.5" cy="1100.6" r="11.3" fill="#7fb09c" stroke="#000" stroke-width="4.2"/>
<circle cx="972.5" cy="1283" r="11.3" fill="#d3bb4f" stroke="#000" stroke-width="4.2"/>
<circle cx="1126.8" cy="1234" r="11.3" fill="#7fb09c" stroke="#000" stroke-width="4.2"/>
<circle cx="1126.8" cy="1340.3" r="11.3" fill="#d3bb4f" stroke="#000" stroke-width="4.2"/>
<circle cx="1281.4" cy="1304.2" r="11.3" fill="#7fb09c" stroke="#000" stroke-width="4.2"/>
<circle cx="1281.4" cy="1330.7" r="11.3" fill="#7fb09c" stroke="#000" stroke-width="4.2"/>
<circle cx="1281.4" cy="1371.3" r="11.3" fill="#d3bb4f" stroke="#000" stroke-width="4.2"/>
<circle cx="1281.4" cy="1396.8" r="11.3" fill="#d3bb4f" stroke="#000" stroke-width="4.2"/>
<path d="M547.6,803.5V843.3M542.6,803.5h10M542.6,843.3h10M663.4,768.4V808.5M658.4,768.4h10M658.4,808.5h10M702,779V818.5M697,779h10M697,818.5h10M817.8,888V928M812.8,888h10M812.8,928h10M547.6,992V1030.8M542.6,992h10M542.6,1030.8h10M663.4,982V1021.5M658.4,982h10M658.4,1021.5h10M702,902.5V942.3M697,902.5h10M697,942.3h10M817.4,1108V1149.3M812.4,1108h10M812.4,1149.3h10M972.5,1080V1120.8M967.5,1080h10M967.5,1120.8h10M972.5,1263V1303.3M967.5,1263h10M967.5,1303.3h10M1126.8,1214V1254.6M1121.8,1214h10M1121.8,1254.6h10M1126.8,1320V1360M1121.8,1320h10M1121.8,1360h10M1281.4,1284.7V1323.8M1276.4,1284.7h10M1276.4,1323.8h10M1281.4,1311.7V1351M1276.4,1311.7h10M1276.4,1351h10M1281.4,1351V1391.5M1276.4,1351h10M1276.4,1391.5h10M1281.4,1377.9V1417M1276.4,1377.9h10M1276.4,1417h10M1281.4,1417V1459" fill="none" stroke="#000" stroke-width="3"/>
<text transform="translate(495,921) scale(1.07,1)" font-size="53.5" text-anchor="end">0.8</text>
<text transform="translate(495,1051) scale(1.07,1)" font-size="53.5" text-anchor="end">0.6</text>
<text transform="translate(495,1183) scale(1.07,1)" font-size="53.5" text-anchor="end">0.4</text>
<text transform="translate(495,1313.5) scale(1.07,1)" font-size="53.5" text-anchor="end">0.2</text>
<text transform="translate(495,1446) scale(1.07,1)" font-size="53.5" text-anchor="end">0.0</text>
<path transform="translate(415.43,793.00) scale(0.02795,-0.02612)" d="M763 0H583V1147Q518 1085 412.5 1023T223 930V1104Q373 1174.5 485 1275T644 1470H763V0Z" fill="#000"/>
<text transform="translate(447.26,793) scale(1.07,1)" font-size="53.5">.0</text>
<text transform="translate(505.5,1509.2) scale(1.06,1)" font-size="53.5" text-anchor="middle">0</text>
<text transform="translate(1280.5,1509.2) scale(1.06,1)" font-size="53.5" text-anchor="middle">20</text>
<path transform="translate(868.27,1509.20) scale(0.02769,-0.02612)" d="M763 0H583V1147Q518 1085 412.5 1023T223 930V1104Q373 1174.5 485 1275T644 1470H763V0Z" fill="#000"/>
<text transform="translate(899.80,1509.2) scale(1.06,1)" font-size="53.5">0</text>
<text x="1377" y="1475" font-size="61" font-style="italic">bp</text>
<text x="431" y="716" font-size="60" font-style="italic" textLength="159" lengthAdjust="spacingAndGlyphs">FRET</text>
<text x="919.5" y="867.3" font-size="47" font-style="italic" textLength="283" lengthAdjust="spacingAndGlyphs">DNA B-Form</text>
<text x="666.5" y="1303" font-size="45" font-style="italic" textLength="149" lengthAdjust="spacingAndGlyphs">DNA +</text>
<text x="668" y="1357.5" font-size="45" font-style="italic" textLength="428" lengthAdjust="spacingAndGlyphs">Transcription factor</text>
</g>
<g id="frame">
<circle cx="410.3" cy="1581" r="9" fill="#7d90c6"/>
<rect x="300.5" y="27.5" width="1553.5" height="1553.5" fill="none" stroke="#000" stroke-width="5.5"/>
<path d="M410,27V88M410,1581V1520M685,27V88M685,1581V1520M960,27V88M960,1581V1520M1235,27V88M1235,1581V1520M1510,27V88M1510,1581V1520M1785,27V88M1785,1581V1520M300,200H362M1854,200H1792M300,545H362M1854,545H1792M300,890.5H362M1854,890.5H1792M300,1236H362M1854,1236H1792" stroke="#000" stroke-width="5.5" fill="none"/>
</g>
<g id="labels">
<text transform="translate(274.7,242) scale(0.93,1)" font-size="115" text-anchor="end">4</text>
<text x="280" y="594.5" font-size="115" text-anchor="end">3</text>
<text x="280" y="940" font-size="115" text-anchor="end">2</text>
<text x="280" y="1612" font-size="115" text-anchor="end">0</text>
<path transform="translate(216.06,1287.00) scale(0.05615,-0.05615)" d="M763 0H583V1147Q518 1085 412.5 1023T223 930V1104Q373 1174.5 485 1275T644 1470H763V0Z" fill="#000"/>
<text transform="translate(412,1692) scale(0.975,1)" font-size="115" text-anchor="middle">0.0</text>
<text transform="translate(687,1692) scale(0.975,1)" font-size="115" text-anchor="middle">0.2</text>
<text transform="translate(962,1692) scale(0.975,1)" font-size="115" text-anchor="middle">0.4</text>
<text transform="translate(1237,1692) scale(0.975,1)" font-size="115" text-anchor="middle">0.6</text>
<text transform="translate(1512,1692) scale(0.975,1)" font-size="115" text-anchor="middle">0.8</text>
<path transform="translate(1708.57,1692.00) scale(0.05475,-0.05615)" d="M763 0H583V1147Q518 1085 412.5 1023T223 930V1104Q373 1174.5 485 1275T644 1470H763V0Z" fill="#000"/>
<text transform="translate(1770.9,1692) scale(0.975,1)" font-size="115">.0</text>
<text x="1093.5" y="1789.5" font-size="82" font-weight="bold" font-style="italic" stroke="#000" stroke-width="0.9" text-anchor="middle" textLength="208" lengthAdjust="spacingAndGlyphs">FRET</text>
<text transform="translate(127.5,1376.5) rotate(-90)" font-size="82" font-weight="bold" font-style="italic" stroke="#000" stroke-width="0.9" textLength="985" lengthAdjust="spacingAndGlyphs">Fluorescence lifetime (ns)</text>
<text x="916.5" y="219" font-size="88" font-style="italic" textLength="693" lengthAdjust="spacingAndGlyphs">Rigid rod + Linker</text>
<text x="1308" y="574" font-size="88" font-style="italic" textLength="371" lengthAdjust="spacingAndGlyphs">Gaussian</text>
<text x="1308.5" y="678" font-size="88" font-style="italic">chain</text>
<text x="249" y="221" font-size="13" font-style="italic">FRET</text>
<path d="M1187,248L1001.1,615.9" stroke="#000" stroke-width="11.2" fill="none"/>
<path d="M998.8,577L1001.1,615.9L1033.6,595.1" stroke="#000" stroke-width="10.7" fill="none" stroke-linecap="round" stroke-linejoin="miter"/>
</g>
<g id="dna">
<path d="M1953.5,417.7A320.7,75 0 0 1 2594.9,417.7L2559.7,1380A287,129.7 0 0 1 1985.7,1380Z" fill="url(#gOuter)"/>
<path d="M1950,1000H2090V1400H1950ZM2465,1000H2600V1400H2465Z" fill="url(#gFade)"/>
<ellipse cx="2272.7" cy="1380" rx="287" ry="129.7" fill="#efefee"/>
<ellipse cx="2274.2" cy="417.7" rx="320.7" ry="75" fill="#f1f3f3"/>
<path d="M2060,415A213.8,49.6 0 0 1 2487.6,415L2469.4,1363A193.4,89.6 0 0 1 2082.6,1363Z" fill="url(#gInner)"/>
<ellipse cx="2276" cy="1363" rx="193.4" ry="89.6" fill="url(#gBot)"/>
<ellipse cx="2273.8" cy="415" rx="213.8" ry="49.6" fill="url(#gTop)"/>
<ellipse cx="2272.7" cy="1380" rx="287" ry="129.7" fill="none" stroke="#777" stroke-width="1.2"/>
<rect x="2264.3" y="410" width="20.7" height="937" fill="url(#gAxis)"/>
<ellipse cx="2274.6" cy="410" rx="10.3" ry="3" fill="#7a2a8c"/>
<g transform="translate(2193.0,1297.3) rotate(40.78)"><path d="M0,-18.0A3.0,18.0 0 0 0 0,18.0L227.7,18.0A4.0,18.0 0 0 0 227.7,-18.0Z" fill="url(#rg15)"/><ellipse cx="227.7" cy="0" rx="15.0" ry="17.7" fill="#4a2a9a"/></g>
<g transform="translate(2102.3,1271.6) rotate(12.35)"><path d="M0,-18.5A3.0,18.5 0 0 0 0,18.5L354.3,18.5A4.0,18.5 0 0 0 354.3,-18.5Z" fill="url(#rg14)"/><ellipse cx="354.3" cy="0" rx="9.0" ry="18.2" fill="#3828aa"/></g>
<g transform="translate(2079.7,1250.3) rotate(-1.83)"><path d="M0,-19.0A2.0,19.0 0 0 0 0,19.0L392.4,19.0A2.0,19.0 0 0 0 392.4,-19.0Z" fill="url(#rg13)"/></g>
<g transform="translate(2116.4,1237.8) rotate(-19.48)"><path d="M0,-18.5A4.0,18.5 0 0 0 0,18.5L323.9,18.5A12.0,18.5 0 0 0 323.9,-18.5Z" fill="url(#rg12)"/><ellipse cx="0" cy="0" rx="11.0" ry="18.2" fill="#2a2868"/></g>
<g transform="translate(2212.0,1201.8) rotate(-52.47)"><path d="M0,-20.0A4.0,20.0 0 0 0 0,20.0L200.3,20.0A8.0,20.0 0 0 0 200.3,-20.0Z" fill="url(#rg11)"/><ellipse cx="0" cy="0" rx="18.0" ry="19.7" fill="#3a5a9a"/></g>
<g transform="translate(2210.3,999.0) rotate(47.75)"><path d="M0,-20.0A3.0,20.0 0 0 0 0,20.0L188.4,20.0A14.0,20.0 0 0 0 188.4,-20.0Z" fill="url(#rg10)"/></g>
<g transform="translate(2113.0,956.8) rotate(15.76)"><path d="M0,-19.5A3.0,19.5 0 0 0 0,19.5L334.6,19.5A4.0,19.5 0 0 0 334.6,-19.5Z" fill="url(#rg9)"/><ellipse cx="334.6" cy="0" rx="12.0" ry="19.2" fill="#5a969a"/></g>
<g transform="translate(2072.5,926.0) rotate(2.06)"><path d="M0,-20.0A3.0,20.0 0 0 0 0,20.0L405.8,20.0A3.0,20.0 0 0 0 405.8,-20.0Z" fill="url(#rg8)"/></g>
<g transform="translate(2091.3,903.6) rotate(-10.53)"><path d="M0,-20.0A4.0,20.0 0 0 0 0,20.0L360.1,20.0A8.0,20.0 0 0 0 360.1,-20.0Z" fill="url(#rg7)"/><ellipse cx="0" cy="0" rx="8.0" ry="19.7" fill="#6a4a2a"/></g>
<g transform="translate(2175.3,867.0) rotate(-32.48)"><path d="M0,-19.5A4.0,19.5 0 0 0 0,19.5L223.5,19.5A12.0,19.5 0 0 0 223.5,-19.5Z" fill="url(#rg6)"/><ellipse cx="0" cy="0" rx="16.0" ry="19.2" fill="#8a6a3a"/></g>
<g transform="translate(2241.5,665.0) rotate(67.76)"><path d="M0,-21.5A3.0,21.5 0 0 0 0,21.5L151.9,21.5A4.0,21.5 0 0 0 151.9,-21.5Z" fill="url(#rg5)"/><ellipse cx="151.9" cy="0" rx="20.0" ry="21.2" fill="#9a8b5a"/></g>
<rect x="2264.3" y="688" width="20.7" height="31" fill="url(#gAxis)"/><ellipse cx="2274.6" cy="719" rx="10.35" ry="3" fill="url(#gAxis)"/>
<g transform="translate(2133.6,625.4) rotate(18.26)"><path d="M0,-20.0A10.0,20.0 0 0 0 0,20.0L296.8,20.0A4.0,20.0 0 0 0 296.8,-20.0Z" fill="url(#rg4)"/><ellipse cx="296.8" cy="0" rx="14.5" ry="19.7" fill="#b09b5a"/></g>
<g transform="translate(2070.0,589.4) rotate(3.95)"><path d="M0,-20.0A4.0,20.0 0 0 0 0,20.0L409.8,20.0A4.0,20.0 0 0 0 409.8,-20.0Z" fill="url(#rg3)"/><ellipse cx="409.8" cy="0" rx="5.0" ry="19.7" fill="#b89242"/></g>
<g transform="translate(2071.0,550.2) rotate(-5.01)"><path d="M0,-20.5A4.0,20.5 0 0 0 0,20.5L405.5,20.5A4.0,20.5 0 0 0 405.5,-20.5Z" fill="url(#rg2)"/><ellipse cx="0" cy="0" rx="5.0" ry="20.2" fill="#7a2018"/></g>
<g transform="translate(2138.9,506.4) rotate(-18.17)"><path d="M0,-20.0A4.0,20.0 0 0 0 0,20.0L271.3,20.0A12.0,20.0 0 0 0 271.3,-20.0Z" fill="url(#rg1)"/><ellipse cx="0" cy="0" rx="16.0" ry="19.7" fill="#7a1216"/></g>
<path d="M2264.3,438.9V450.3A10.35,3 0 0 0 2285,450.3V438.9Z" fill="url(#gAxis)"/>
<path d="M2264.3,509.8V521.1A10.35,3 0 0 0 2285,521.1V509.8Z" fill="url(#gAxis)"/>
<path d="M2264.3,581.5V592.5A10.35,3 0 0 0 2285,592.5V581.5Z" fill="url(#gAxis)"/>
<path d="M2264.3,648.9V660.4A10.35,3 0 0 0 2285,660.4V648.9Z" fill="url(#gAxis)"/>
<path d="M2264.3,847.2V858.3A10.35,3 0 0 0 2285,858.3V847.2Z" fill="url(#gAxis)"/>
<path d="M2264.3,911.3V922.3A10.35,3 0 0 0 2285,922.3V911.3Z" fill="url(#gAxis)"/>
<path d="M2264.3,980.1V991.2A10.35,3 0 0 0 2285,991.2V980.1Z" fill="url(#gAxis)"/>
<path d="M2264.3,1160.3V1171.1A10.35,3 0 0 0 2285,1171.1V1160.3Z" fill="url(#gAxis)"/>
<path d="M2264.3,1223.1V1233.6A10.35,3 0 0 0 2285,1233.6V1223.1Z" fill="url(#gAxis)"/>
<path d="M2264.3,1288.4V1298.9A10.35,3 0 0 0 2285,1298.9V1288.4Z" fill="url(#gAxis)"/>
<ellipse cx="2274.2" cy="417.7" rx="320.7" ry="75" fill="none" stroke="#444" stroke-width="1"/>
<ellipse cx="2273.8" cy="415" rx="213.8" ry="49.6" fill="none" stroke="#444" stroke-width="1"/>
<ellipse cx="2276" cy="1363" rx="193.4" ry="89.6" fill="none" stroke="#666" stroke-width="1"/>
<path d="M2258.9,1364.7L2056.9,1417M2309,1369.4L2491,1418.6" stroke="#000" stroke-width="2.6" fill="none"/>
<path d="M2014.6,1427.3L2063.1,1402.3L2056.9,1417L2067.8,1427.3ZM2535.7,1430.3L2487.2,1403.7L2491,1418.6L2480.1,1429.6Z" fill="#000"/>
<g transform="translate(2110.0,1004.1) rotate(40.70)"><rect x="0" y="-6.4" width="532.9" height="12.8" fill="url(#gShaft)"/><rect x="414.9" y="-6.4" width="118.0" height="12.8" fill="url(#gShaft2)"/></g>
<g transform="translate(2107.6,1016.2) rotate(40.10)"><path d="M-146.4,0L0,-35.5A9,35.5 0 0 1 0,35.5Z" fill="url(#gCone)"/></g>
<g transform="translate(2196,1061) rotate(39.9)"><text x="2" y="2.5" font-size="77" font-weight="bold" style="fill:#1c2430;opacity:.35">distance</text><text x="0" y="0" font-size="77" font-weight="bold" style="fill:#fff">distance</text></g>
<circle cx="1996" cy="922" r="42" fill="url(#gA)"/>
<circle cx="2016" cy="920" r="14" fill="url(#gA2)"/>
<text x="1994.5" y="938" font-size="61" font-weight="bold" font-style="italic" text-anchor="middle" style="fill:#fbe6de">A</text>
<circle cx="2539.2" cy="1370" r="40.3" fill="url(#gD)"/>
<circle cx="2551" cy="1371" r="17" fill="url(#gD2)"/>
<text x="2548" y="1387.3" font-size="58" font-weight="bold" font-style="italic" text-anchor="middle" style="fill:#26440a">D</text>
<text x="2156" y="194" font-size="83" font-weight="bold" font-style="italic" stroke="#000" stroke-width="0.9" textLength="200" lengthAdjust="spacingAndGlyphs">DNA:</text>
<text transform="translate(2284.5,1606) scale(1.25,1)" font-size="78" font-style="italic" style="font-family:'Liberation Serif',serif">θ</text>
</g>
</svg>
</body></html>
